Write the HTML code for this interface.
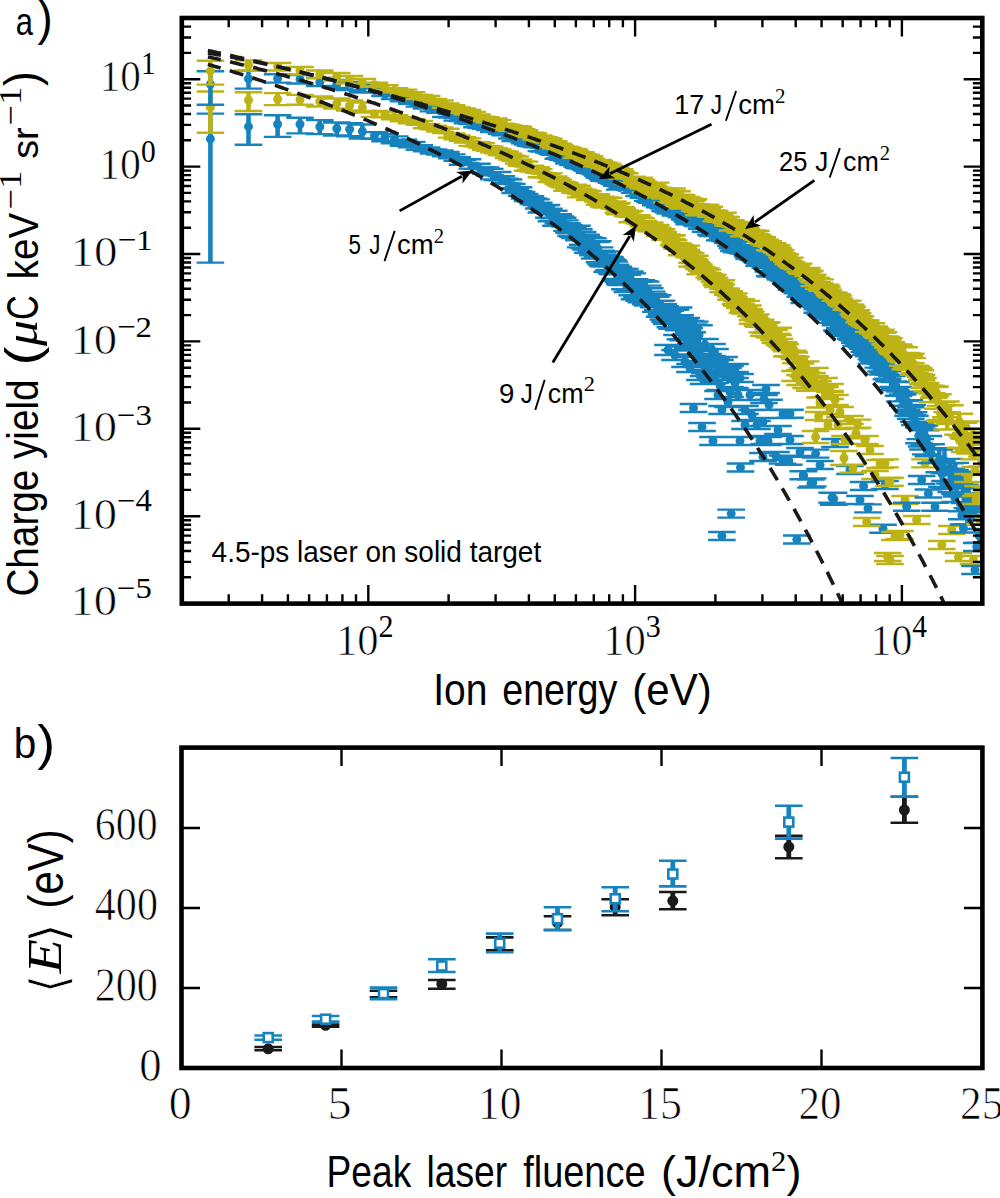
<!DOCTYPE html><html><head><meta charset="utf-8"><style>html,body{margin:0;padding:0;background:#fff;overflow:hidden}svg{display:block}.s{font-family:"Liberation Sans",sans-serif}.r{font-family:"Liberation Serif",serif}text.r[font-size="44"]:not([font-style]){stroke:#fff;stroke-width:0.7px}.r tspan{stroke:none}</style></head><body>
<svg width="1000" height="1198" viewBox="0 0 1000 1198">
<rect width="1000" height="1198" fill="#fff"/>
<defs><clipPath id="ca"><rect x="181.8" y="18" width="800.5" height="585.6"/></clipPath></defs>
<g clip-path="url(#ca)">
<g stroke="#1783be" fill="none"><path stroke-width="4.6" d="M210.4 113.6V262.6M248.5 114.3V144.7M277.6 115.2V136.9M300 117.7V133.4M319.8 120.1V134.1M336.8 122.5V135.5M349.6 123.3V136.2M362.4 124.5V138.5M374.5 132.1V138.9M385 133.9V141.3M394.6 136.4V143.3M403.5 139.6V145.8M411.7 141.9V147.3M419.4 145.3V149.9M426.6 147.4V151.4M433.4 149.5V153.5M439.9 150.5V154.6M445.9 152V156.3M451.7 154.4V158.2M457.2 157.2V160.9M462.5 160.4V164.7M467.5 159.2V164.1M472.3 163.7V168.6M477 163.8V168.8M481.4 167.3V172.6M485.7 167.5V173.5M489.8 168.9V175.4M493.8 172.1V179.4M497.7 172V180.1M501.4 176.1V180.3M505 178.8V183M508.5 179.5V183.5M511.9 184V188.2M515.2 189V193M518.5 187.3V191.2M521.6 191.9V195.9M524.6 194V198.6M527.6 195.9V201M530.5 196.1V201.5M533.3 198.5V203.8M536.1 199.4V205M538.8 202.7V208.5M541.4 206.3V212.5M544 205.3V211.9M546.5 205V212.4M548.9 208.8V217.8M551.4 210.7V221.3M553.7 210.8V220.8M556 214.2V225.7M558.3 214.2V223M560.5 216.4V224.1M562.7 217.7V223.6M564.9 220.4V226.6M567 223.2V230.9M569 224.9V232.8M571.1 226.8V235.8M573.1 227.8V236.7M575 229.1V238M577 225.7V236.5M578.9 229.2V240.2M580.7 236.3V247.4M582.6 232V244.7M584.4 235.5V248.3M586.1 234.8V249.5M587.9 237.3V252.8M589.6 237.7V253.1M591.3 238.2V251.7M593 238.4V255.2M594.7 242V258.6M596.3 241.8V258.4M597.9 241.1V256.2M599.5 247.4V262.2M601.1 250.7V264.2M602.6 252.4V265.6M604.1 255V266.6M605.6 251.4V263.7M607.1 259.3V271.9M608.6 256.6V270.5M610 257.3V270M611.5 259.2V273.2M612.9 260.2V274.3M614.3 261.6V273.8M615.6 264.6V278.9M617 266.8V280.5M618.4 266.8V281.9M619.7 269.2V284.1M621 269.4V284.7M622.3 268.6V285M624.9 268.9V289.2M627.4 274.7V292M629.8 271.5V290.1M632.2 273.4V295.2M634.6 279.1V299.3M636.9 280.4V297.6M639.1 281.9V300.9M641.4 280.1V302.4M643.5 281.2V298.3M645.7 281.6V304.3M647.8 285.6V305.5M649.8 288.3V302.7M651.8 291.6V304.2M653.8 294.2V307.2M655.8 296.9V311.9M657.7 295.1V310.3M659.6 301V316.7M661.5 300.6V314.3M663.3 304.3V319.5M665.1 306.1V322M666.9 310.9V324.1M668.6 311.4V323.1M670.3 310.8V327.2M672 316.7V328.7M673.7 307.6V322.2M675.4 309.7V327.9M677 317.6V335M678.6 307.5V330.2M680.2 315.2V339.4M681.7 318.8V339.3M683.3 320.1V340.2M684.8 319.4V346.5M686.3 317.9V346M687.8 327V348.7M689.2 328.2V350.6M690.7 320.9V344.2M692.1 332.3V354.5M693.5 324.4V344.3M694.9 321.6V344.4M697.6 347V362.1M699 325.2V344.1M700.3 348.4V364M701.6 354.1V367M693.5 404V412M703.5 376V384M702 423V431M713 437V445M738 390V400M745 406V414M757 421V429M764 395V403M768 437V445M776 452V460M783 410V418M740 437V445M760 437V445M763 453V461M788.8 456.8V464.8M803.2 471.2V479.2M812.8 478.4V486.4M832 492.6V502.6M740.5 463.5V471.5M731.2 509.6V517.6M721.9 532V540M796.8 535.5V543.5M766 385V393M769 399.8V409.8M790 409.8V417.8M763 418V426M764.5 436V444M782.5 455.6V463.6M815.6 449.6V457.6M803.6 471.4V479.4M811 479.6V487.6M833.6 492.7V504.7M868 504.4V512.4M883 524.7V532.7M835 439V447M863.6 482V490M885 481V489M710 367V377M715 373V383M720 380V390M725 370V380M730 387V397M735 378V388M728 397V407M750 390V400M752 410V420M718 391V399M722 406V414M745 421V429M778 426V434M790 436V444M800 448V456M820 461V469M850 466V474M860 496V504M708 354V366M712 344V356M716 359V371M700 349V361M705 363V373M724 357V367M675 350V360M685 357V367M690 364V372M700 370V380M712 376V384M668 345V355M695 344V356M705 339V351M715 349V361M720 360V370M730 366V374M740 374V382M728 368V376M735 364V372"/><path stroke-width="2.4" d="M196.6 113.6h27.6M196.6 262.6h27.6M234.7 114.3h27.6M234.7 144.7h27.6M263.8 115.2h27.6M263.8 136.9h27.6M286.2 117.7h27.6M286.2 133.4h27.6M306 120.1h27.6M306 134.1h27.6M323 122.5h27.6M323 135.5h27.6M335.8 123.3h27.6M335.8 136.2h27.6M348.6 124.5h27.6M348.6 138.5h27.6M360.7 132.1h27.6M360.7 138.9h27.6M371.2 133.9h27.6M371.2 141.3h27.6M380.8 136.4h27.6M380.8 143.3h27.6M389.7 139.6h27.6M389.7 145.8h27.6M397.9 141.9h27.6M397.9 147.3h27.6M405.6 145.3h27.6M405.6 149.9h27.6M412.8 147.4h27.6M412.8 151.4h27.6M419.6 149.5h27.6M419.6 153.5h27.6M426.1 150.5h27.6M426.1 154.6h27.6M432.1 152h27.6M432.1 156.3h27.6M437.9 154.4h27.6M437.9 158.2h27.6M443.4 157.2h27.6M443.4 160.9h27.6M448.7 160.4h27.6M448.7 164.7h27.6M453.7 159.2h27.6M453.7 164.1h27.6M458.5 163.7h27.6M458.5 168.6h27.6M463.2 163.8h27.6M463.2 168.8h27.6M467.6 167.3h27.6M467.6 172.6h27.6M471.9 167.5h27.6M471.9 173.5h27.6M476 168.9h27.6M476 175.4h27.6M480 172.1h27.6M480 179.4h27.6M483.9 172h27.6M483.9 180.1h27.6M487.6 176.1h27.6M487.6 180.3h27.6M491.2 178.8h27.6M491.2 183h27.6M494.7 179.5h27.6M494.7 183.5h27.6M498.1 184h27.6M498.1 188.2h27.6M501.4 189h27.6M501.4 193h27.6M504.7 187.3h27.6M504.7 191.2h27.6M507.8 191.9h27.6M507.8 195.9h27.6M510.8 194h27.6M510.8 198.6h27.6M513.8 195.9h27.6M513.8 201h27.6M516.7 196.1h27.6M516.7 201.5h27.6M519.5 198.5h27.6M519.5 203.8h27.6M522.3 199.4h27.6M522.3 205h27.6M525 202.7h27.6M525 208.5h27.6M527.6 206.3h27.6M527.6 212.5h27.6M530.2 205.3h27.6M530.2 211.9h27.6M532.7 205h27.6M532.7 212.4h27.6M535.1 208.8h27.6M535.1 217.8h27.6M537.6 210.7h27.6M537.6 221.3h27.6M539.9 210.8h27.6M539.9 220.8h27.6M542.2 214.2h27.6M542.2 225.7h27.6M544.5 214.2h27.6M544.5 223h27.6M546.7 216.4h27.6M546.7 224.1h27.6M548.9 217.7h27.6M548.9 223.6h27.6M551.1 220.4h27.6M551.1 226.6h27.6M553.2 223.2h27.6M553.2 230.9h27.6M555.2 224.9h27.6M555.2 232.8h27.6M557.3 226.8h27.6M557.3 235.8h27.6M559.3 227.8h27.6M559.3 236.7h27.6M561.2 229.1h27.6M561.2 238h27.6M563.2 225.7h27.6M563.2 236.5h27.6M565.1 229.2h27.6M565.1 240.2h27.6M566.9 236.3h27.6M566.9 247.4h27.6M568.8 232h27.6M568.8 244.7h27.6M570.6 235.5h27.6M570.6 248.3h27.6M572.3 234.8h27.6M572.3 249.5h27.6M574.1 237.3h27.6M574.1 252.8h27.6M575.8 237.7h27.6M575.8 253.1h27.6M577.5 238.2h27.6M577.5 251.7h27.6M579.2 238.4h27.6M579.2 255.2h27.6M580.9 242h27.6M580.9 258.6h27.6M582.5 241.8h27.6M582.5 258.4h27.6M584.1 241.1h27.6M584.1 256.2h27.6M585.7 247.4h27.6M585.7 262.2h27.6M587.3 250.7h27.6M587.3 264.2h27.6M588.8 252.4h27.6M588.8 265.6h27.6M590.3 255h27.6M590.3 266.6h27.6M591.8 251.4h27.6M591.8 263.7h27.6M593.3 259.3h27.6M593.3 271.9h27.6M594.8 256.6h27.6M594.8 270.5h27.6M596.2 257.3h27.6M596.2 270h27.6M597.7 259.2h27.6M597.7 273.2h27.6M599.1 260.2h27.6M599.1 274.3h27.6M600.5 261.6h27.6M600.5 273.8h27.6M601.8 264.6h27.6M601.8 278.9h27.6M603.2 266.8h27.6M603.2 280.5h27.6M604.6 266.8h27.6M604.6 281.9h27.6M605.9 269.2h27.6M605.9 284.1h27.6M607.2 269.4h27.6M607.2 284.7h27.6M608.5 268.6h27.6M608.5 285h27.6M611.1 268.9h27.6M611.1 289.2h27.6M613.6 274.7h27.6M613.6 292h27.6M616 271.5h27.6M616 290.1h27.6M618.4 273.4h27.6M618.4 295.2h27.6M620.8 279.1h27.6M620.8 299.3h27.6M623.1 280.4h27.6M623.1 297.6h27.6M625.3 281.9h27.6M625.3 300.9h27.6M627.6 280.1h27.6M627.6 302.4h27.6M629.7 281.2h27.6M629.7 298.3h27.6M631.9 281.6h27.6M631.9 304.3h27.6M634 285.6h27.6M634 305.5h27.6M636 288.3h27.6M636 302.7h27.6M638 291.6h27.6M638 304.2h27.6M640 294.2h27.6M640 307.2h27.6M642 296.9h27.6M642 311.9h27.6M643.9 295.1h27.6M643.9 310.3h27.6M645.8 301h27.6M645.8 316.7h27.6M647.7 300.6h27.6M647.7 314.3h27.6M649.5 304.3h27.6M649.5 319.5h27.6M651.3 306.1h27.6M651.3 322h27.6M653.1 310.9h27.6M653.1 324.1h27.6M654.8 311.4h27.6M654.8 323.1h27.6M656.5 310.8h27.6M656.5 327.2h27.6M658.2 316.7h27.6M658.2 328.7h27.6M659.9 307.6h27.6M659.9 322.2h27.6M661.6 309.7h27.6M661.6 327.9h27.6M663.2 317.6h27.6M663.2 335h27.6M664.8 307.5h27.6M664.8 330.2h27.6M666.4 315.2h27.6M666.4 339.4h27.6M667.9 318.8h27.6M667.9 339.3h27.6M669.5 320.1h27.6M669.5 340.2h27.6M671 319.4h27.6M671 346.5h27.6M672.5 317.9h27.6M672.5 346h27.6M674 327h27.6M674 348.7h27.6M675.4 328.2h27.6M675.4 350.6h27.6M676.9 320.9h27.6M676.9 344.2h27.6M678.3 332.3h27.6M678.3 354.5h27.6M679.7 324.4h27.6M679.7 344.3h27.6M681.1 321.6h27.6M681.1 344.4h27.6M683.8 347h27.6M683.8 362.1h27.6M685.2 325.2h27.6M685.2 344.1h27.6M686.5 348.4h27.6M686.5 364h27.6M687.8 354.1h27.6M687.8 367h27.6M679.7 404h27.6M679.7 412h27.6M689.7 376h27.6M689.7 384h27.6M688.2 423h27.6M688.2 431h27.6M699.2 437h27.6M699.2 445h27.6M724.2 390h27.6M724.2 400h27.6M731.2 406h27.6M731.2 414h27.6M743.2 421h27.6M743.2 429h27.6M750.2 395h27.6M750.2 403h27.6M754.2 437h27.6M754.2 445h27.6M762.2 452h27.6M762.2 460h27.6M769.2 410h27.6M769.2 418h27.6M726.2 437h27.6M726.2 445h27.6M746.2 437h27.6M746.2 445h27.6M749.2 453h27.6M749.2 461h27.6M775 456.8h27.6M775 464.8h27.6M789.4 471.2h27.6M789.4 479.2h27.6M799 478.4h27.6M799 486.4h27.6M818.2 492.6h27.6M818.2 502.6h27.6M726.7 463.5h27.6M726.7 471.5h27.6M717.4 509.6h27.6M717.4 517.6h27.6M708.1 532h27.6M708.1 540h27.6M783 535.5h27.6M783 543.5h27.6M752.2 385h27.6M752.2 393h27.6M755.2 399.8h27.6M755.2 409.8h27.6M776.2 409.8h27.6M776.2 417.8h27.6M749.2 418h27.6M749.2 426h27.6M750.7 436h27.6M750.7 444h27.6M768.7 455.6h27.6M768.7 463.6h27.6M801.8 449.6h27.6M801.8 457.6h27.6M789.8 471.4h27.6M789.8 479.4h27.6M797.2 479.6h27.6M797.2 487.6h27.6M819.8 492.7h27.6M819.8 504.7h27.6M854.2 504.4h27.6M854.2 512.4h27.6M869.2 524.7h27.6M869.2 532.7h27.6M821.2 439h27.6M821.2 447h27.6M849.8 482h27.6M849.8 490h27.6M871.2 481h27.6M871.2 489h27.6M696.2 367h27.6M696.2 377h27.6M701.2 373h27.6M701.2 383h27.6M706.2 380h27.6M706.2 390h27.6M711.2 370h27.6M711.2 380h27.6M716.2 387h27.6M716.2 397h27.6M721.2 378h27.6M721.2 388h27.6M714.2 397h27.6M714.2 407h27.6M736.2 390h27.6M736.2 400h27.6M738.2 410h27.6M738.2 420h27.6M704.2 391h27.6M704.2 399h27.6M708.2 406h27.6M708.2 414h27.6M731.2 421h27.6M731.2 429h27.6M764.2 426h27.6M764.2 434h27.6M776.2 436h27.6M776.2 444h27.6M786.2 448h27.6M786.2 456h27.6M806.2 461h27.6M806.2 469h27.6M836.2 466h27.6M836.2 474h27.6M846.2 496h27.6M846.2 504h27.6M694.2 354h27.6M694.2 366h27.6M698.2 344h27.6M698.2 356h27.6M702.2 359h27.6M702.2 371h27.6M686.2 349h27.6M686.2 361h27.6M691.2 363h27.6M691.2 373h27.6M710.2 357h27.6M710.2 367h27.6M661.2 350h27.6M661.2 360h27.6M671.2 357h27.6M671.2 367h27.6M676.2 364h27.6M676.2 372h27.6M686.2 370h27.6M686.2 380h27.6M698.2 376h27.6M698.2 384h27.6M654.2 345h27.6M654.2 355h27.6M681.2 344h27.6M681.2 356h27.6M691.2 339h27.6M691.2 351h27.6M701.2 349h27.6M701.2 361h27.6M706.2 360h27.6M706.2 370h27.6M716.2 366h27.6M716.2 374h27.6M726.2 374h27.6M726.2 382h27.6M714.2 368h27.6M714.2 376h27.6M721.2 364h27.6M721.2 372h27.6"/><path stroke-width="9" stroke-linecap="round" d="M210.4 138.9h0M248.5 126.6h0M277.6 124.3h0M300 124.3h0M319.8 126.7h0M336.8 128.5h0M349.6 129.2h0M362.4 131.5h0M374.5 135.5h0M385 137.6h0M394.6 139.8h0M403.5 142.7h0M411.7 144.6h0M419.4 147.6h0M426.6 149.4h0M433.4 151.5h0M439.9 152.6h0M445.9 154.2h0M451.7 156.3h0M457.2 159h0M462.5 162.5h0M467.5 161.6h0M472.3 166.2h0M477 166.3h0M481.4 169.9h0M485.7 170.5h0M489.8 172.1h0M493.8 175.7h0M497.7 176h0M501.4 178.2h0M505 180.9h0M508.5 181.5h0M511.9 186.1h0M515.2 191h0M518.5 189.2h0M521.6 193.9h0M524.6 196.3h0M527.6 198.5h0M530.5 198.8h0M533.3 201.2h0M536.1 202.2h0M538.8 205.6h0M541.4 209.4h0M544 208.6h0M546.5 208.7h0M548.9 213.3h0M551.4 216h0M553.7 215.8h0M556 220h0M558.3 218.6h0M560.5 220.3h0M562.7 220.6h0M564.9 223.5h0M567 227h0M569 228.9h0M571.1 231.3h0M573.1 232.2h0M575 233.5h0M577 231.1h0M578.9 234.7h0M580.7 241.9h0M582.6 238.3h0M584.4 241.9h0M586.1 242.2h0M587.9 245h0M589.6 245.4h0M591.3 245h0M593 246.8h0M594.7 250.3h0M596.3 250.1h0M597.9 248.7h0M599.5 254.8h0M601.1 257.4h0M602.6 259h0M604.1 260.8h0M605.6 257.6h0M607.1 265.6h0M608.6 263.6h0M610 263.6h0M611.5 266.2h0M612.9 267.2h0M614.3 267.7h0M615.6 271.7h0M617 273.7h0M618.4 274.4h0M619.7 276.7h0M621 277h0M622.3 276.8h0M624.9 279h0M627.4 283.3h0M629.8 280.8h0M632.2 284.3h0M634.6 289.2h0M636.9 289h0M639.1 291.4h0M641.4 291.2h0M643.5 289.7h0M645.7 292.9h0M647.8 295.5h0M649.8 295.5h0M651.8 297.9h0M653.8 300.7h0M655.8 304.4h0M657.7 302.7h0M659.6 308.8h0M661.5 307.5h0M663.3 311.9h0M665.1 314h0M666.9 317.5h0M668.6 317.3h0M670.3 319h0M672 322.7h0M673.7 314.9h0M675.4 318.8h0M677 326.3h0M678.6 318.9h0M680.2 327.3h0M681.7 329h0M683.3 330.2h0M684.8 333h0M686.3 331.9h0M687.8 337.8h0M689.2 339.4h0M690.7 332.6h0M692.1 343.4h0M693.5 334.4h0M694.9 333h0M697.6 354.5h0M699 334.7h0M700.3 356.2h0M701.6 360.5h0M693.5 408h0M703.5 380h0M702 427h0M713 441h0M738 395h0M745 410h0M757 425h0M764 399h0M768 441h0M776 456h0M783 414h0M740 441h0M760 441h0M763 457h0M788.8 460.8h0M803.2 475.2h0M812.8 482.4h0M832 497.6h0M740.5 467.5h0M731.2 513.6h0M721.9 536h0M796.8 539.5h0M766 389h0M769 404.8h0M790 413.8h0M763 422h0M764.5 440h0M782.5 459.6h0M815.6 453.6h0M803.6 475.4h0M811 483.6h0M833.6 498.7h0M868 508.4h0M883 528.7h0M835 443h0M863.6 486h0M885 485h0M710 372h0M715 378h0M720 385h0M725 375h0M730 392h0M735 383h0M728 402h0M750 395h0M752 415h0M718 395h0M722 410h0M745 425h0M778 430h0M790 440h0M800 452h0M820 465h0M850 470h0M860 500h0M708 360h0M712 350h0M716 365h0M700 355h0M705 368h0M724 362h0M675 355h0M685 362h0M690 368h0M700 375h0M712 380h0M668 350h0M695 350h0M705 345h0M715 355h0M720 365h0M730 370h0M740 378h0M728 372h0M735 368h0"/></g>
<g stroke="#bdb315" fill="none"><path stroke-width="4.6" d="M210.4 91.5V132.8M248.5 92.2V111M277.6 93.1V105.1M300 94.9V104.7M319.8 96.5V106.5M336.8 98.5V108.5M349.6 100.5V110.5M362.4 102.5V112.5M374.5 110.9V116.9M385 111.8V117.3M394.6 115.2V119.2M403.5 117.3V121.3M411.7 119.3V123.2M419.4 120.9V124.9M426.6 124V128.2M433.4 125.6V129.4M439.9 127.5V131.6M445.9 128.7V133M451.7 133.4V137.6M457.2 135.4V139.3M462.5 137.1V140.9M467.5 138.4V142.6M472.3 142V145.9M477 142.3V146.2M481.4 143.1V147.6M485.7 145.9V150M489.8 146.5V150.7M493.8 148.2V152.4M497.7 149.4V153.3M501.4 150.9V155.1M505 151.5V155.3M508.5 153.8V158M511.9 155.8V159.6M515.2 156.5V160.8M518.5 159.4V163.5M521.6 161.5V165.7M524.6 161.6V165.9M527.6 166.6V170.8M530.5 165.6V169.6M533.3 167.7V171.5M536.1 167.2V171.4M538.8 169.1V172.7M541.4 173V177.3M544 173.3V177.1M546.5 173.7V177.5M548.9 173.4V177.4M551.4 178.3V182M553.7 176.4V180.4M556 178.1V182.3M558.3 179.8V183.8M560.5 181.6V185.6M562.7 182.2V186.3M564.9 182.9V187.4M567 186.8V190.7M569 185.3V189.1M571.1 186.2V190.8M573.1 184.6V189.1M575 188.7V192.8M577 185.8V190.3M578.9 188.4V192.3M580.7 193.8V197.4M582.6 189.8V193.8M584.4 191.6V195.8M586.1 190.6V194.9M587.9 191.3V195.7M589.6 195.7V200M591.3 194.3V197.9M593 195.6V199.2M594.7 195.7V199.8M596.3 194.3V198.8M597.9 197.3V201.5M599.5 199.5V204.8M601.1 196.8V202.5M602.6 199.1V205.3M604.1 200.8V207M605.6 197.4V203.3M607.1 201.4V207.6M608.6 197.9V202.2M610 203.3V206.9M611.5 202V206.4M612.9 201.5V205.8M614.3 204V208.6M615.6 204.3V208.2M617 203.1V207.1M618.4 209.4V212.9M619.7 210.1V214.2M621 207.1V210.5M622.3 208.7V212.9M624.9 210.5V213.9M627.4 212.4V216M629.8 210.9V216.4M632.2 217V222.2M634.6 216.2V222M636.9 215.3V221.3M639.1 217.7V223.4M641.4 218.4V224.1M643.5 221.1V226.2M645.7 224.2V229.3M647.8 225.5V230.4M649.8 222.5V227.9M651.8 227V231.2M653.8 226.1V230M655.8 225V229.5M657.7 227.8V232.1M659.6 231.3V235.8M661.5 229.1V233.1M663.3 232V236.3M665.1 236.1V239.9M666.9 234.5V238.2M668.6 235.3V239.2M670.3 235.9V239.8M672 235.2V239.3M673.7 240.4V245M675.4 243.2V246.8M677 244.8V248.7M678.6 243.7V247M680.2 245.2V248.7M681.7 250.8V255.3M683.3 247.9V251.9M684.8 251V255M686.3 245.6V249.7M687.8 251.9V255.6M689.2 252.9V257.4M690.7 253.1V257.4M692.1 262.7V266.6M693.5 258.7V263M694.9 255.8V260M696.3 262.3V266.5M697.6 263.4V267.4M699 264.6V268.8M700.3 269.4V274.2M701.6 267V270.7M703.6 269.1V272.5M705.5 268.3V272.8M707.3 269.6V273.1M709.2 273.9V277.6M711 275.3V279.2M712.8 274.7V279M714.6 277.6V282M716.3 281.3V285M718 283.1V287M719.7 283.1V286.5M721.4 280.2V284.4M723 288.7V292.1M724.6 288.5V292.2M726.2 288.7V292M727.8 291.4V294.9M729.3 291.2V294.5M730.9 296.3V299.9M732.4 295.9V299.4M733.9 293.4V297.2M735.4 299.7V304.2M736.8 301.2V305.9M738.2 300.7V305M739.7 303.8V308.1M741.1 299.3V303.7M742.5 308V312.7M743.8 307V310.4M745.2 310.3V313.5M746.5 300.9V305.6M747.8 305.5V309.7M749.1 309.3V313.6M750.9 311.6V316.3M752.6 320V323.7M754.2 316.6V319.8M755.9 314.4V318.7M757.5 320.6V325.7M759.1 321V326.7M760.7 319.6V326M762.2 324.5V332.4M763.8 325.5V335.9M765.3 322.8V333.1M766.8 322.2V332.2M768.3 329.5V336.5M769.7 329.5V337.3M771.2 327.8V337.5M772.6 328.6V336.2M774 330.1V340M775.4 333.8V342.8M776.8 333.6V343M778.1 327.8V335.1M779.5 339V345.2M782.1 342.2V346.8M783.7 342.1V347.5M785.3 344.2V349.7M786.9 351.4V356.5M788.4 351V355.9M791.5 350.7V356.7M793 350.6V356.3M794.4 352.5V359.1M795.9 356.7V363.1M800.2 363.5V370M805.6 361.4V371.3M806.9 368.2V377.3M809.6 382.8V390.8M815 378V386M820 397.5V407.5M818.6 412V420M857.6 419.6V427.6M815.6 431V443M856 428.3V438.3M844 451V465M853 464.6V472.6M880 460V468M889 478V486M866.7 518V526M895 532V540M887.7 553V561M885 459.4V467.4M890 477.8V485.8M905 496V504M916.7 516V524M900 531V539M890 556V564M925 459.4V467.4M941.8 541V549M951.8 526V534M958.5 553V561M973.5 556V564M830 406V414M838 421V429M845 436V444M870 446V454M875 471V479M830 391V399M865 436V444M825 387V397M835 395V405M840 407V417M850 416V424M828 421V429M800 375V385M806 378V388M812 373V383M818 381V389M824 378V386M830 384V392M795 371V381M803 368V376M815 368V376"/><path stroke-width="2.4" d="M196.6 91.5h27.6M196.6 132.8h27.6M234.7 92.2h27.6M234.7 111h27.6M263.8 93.1h27.6M263.8 105.1h27.6M286.2 94.9h27.6M286.2 104.7h27.6M306 96.5h27.6M306 106.5h27.6M323 98.5h27.6M323 108.5h27.6M335.8 100.5h27.6M335.8 110.5h27.6M348.6 102.5h27.6M348.6 112.5h27.6M360.7 110.9h27.6M360.7 116.9h27.6M371.2 111.8h27.6M371.2 117.3h27.6M380.8 115.2h27.6M380.8 119.2h27.6M389.7 117.3h27.6M389.7 121.3h27.6M397.9 119.3h27.6M397.9 123.2h27.6M405.6 120.9h27.6M405.6 124.9h27.6M412.8 124h27.6M412.8 128.2h27.6M419.6 125.6h27.6M419.6 129.4h27.6M426.1 127.5h27.6M426.1 131.6h27.6M432.1 128.7h27.6M432.1 133h27.6M437.9 133.4h27.6M437.9 137.6h27.6M443.4 135.4h27.6M443.4 139.3h27.6M448.7 137.1h27.6M448.7 140.9h27.6M453.7 138.4h27.6M453.7 142.6h27.6M458.5 142h27.6M458.5 145.9h27.6M463.2 142.3h27.6M463.2 146.2h27.6M467.6 143.1h27.6M467.6 147.6h27.6M471.9 145.9h27.6M471.9 150h27.6M476 146.5h27.6M476 150.7h27.6M480 148.2h27.6M480 152.4h27.6M483.9 149.4h27.6M483.9 153.3h27.6M487.6 150.9h27.6M487.6 155.1h27.6M491.2 151.5h27.6M491.2 155.3h27.6M494.7 153.8h27.6M494.7 158h27.6M498.1 155.8h27.6M498.1 159.6h27.6M501.4 156.5h27.6M501.4 160.8h27.6M504.7 159.4h27.6M504.7 163.5h27.6M507.8 161.5h27.6M507.8 165.7h27.6M510.8 161.6h27.6M510.8 165.9h27.6M513.8 166.6h27.6M513.8 170.8h27.6M516.7 165.6h27.6M516.7 169.6h27.6M519.5 167.7h27.6M519.5 171.5h27.6M522.3 167.2h27.6M522.3 171.4h27.6M525 169.1h27.6M525 172.7h27.6M527.6 173h27.6M527.6 177.3h27.6M530.2 173.3h27.6M530.2 177.1h27.6M532.7 173.7h27.6M532.7 177.5h27.6M535.1 173.4h27.6M535.1 177.4h27.6M537.6 178.3h27.6M537.6 182h27.6M539.9 176.4h27.6M539.9 180.4h27.6M542.2 178.1h27.6M542.2 182.3h27.6M544.5 179.8h27.6M544.5 183.8h27.6M546.7 181.6h27.6M546.7 185.6h27.6M548.9 182.2h27.6M548.9 186.3h27.6M551.1 182.9h27.6M551.1 187.4h27.6M553.2 186.8h27.6M553.2 190.7h27.6M555.2 185.3h27.6M555.2 189.1h27.6M557.3 186.2h27.6M557.3 190.8h27.6M559.3 184.6h27.6M559.3 189.1h27.6M561.2 188.7h27.6M561.2 192.8h27.6M563.2 185.8h27.6M563.2 190.3h27.6M565.1 188.4h27.6M565.1 192.3h27.6M566.9 193.8h27.6M566.9 197.4h27.6M568.8 189.8h27.6M568.8 193.8h27.6M570.6 191.6h27.6M570.6 195.8h27.6M572.3 190.6h27.6M572.3 194.9h27.6M574.1 191.3h27.6M574.1 195.7h27.6M575.8 195.7h27.6M575.8 200h27.6M577.5 194.3h27.6M577.5 197.9h27.6M579.2 195.6h27.6M579.2 199.2h27.6M580.9 195.7h27.6M580.9 199.8h27.6M582.5 194.3h27.6M582.5 198.8h27.6M584.1 197.3h27.6M584.1 201.5h27.6M585.7 199.5h27.6M585.7 204.8h27.6M587.3 196.8h27.6M587.3 202.5h27.6M588.8 199.1h27.6M588.8 205.3h27.6M590.3 200.8h27.6M590.3 207h27.6M591.8 197.4h27.6M591.8 203.3h27.6M593.3 201.4h27.6M593.3 207.6h27.6M594.8 197.9h27.6M594.8 202.2h27.6M596.2 203.3h27.6M596.2 206.9h27.6M597.7 202h27.6M597.7 206.4h27.6M599.1 201.5h27.6M599.1 205.8h27.6M600.5 204h27.6M600.5 208.6h27.6M601.8 204.3h27.6M601.8 208.2h27.6M603.2 203.1h27.6M603.2 207.1h27.6M604.6 209.4h27.6M604.6 212.9h27.6M605.9 210.1h27.6M605.9 214.2h27.6M607.2 207.1h27.6M607.2 210.5h27.6M608.5 208.7h27.6M608.5 212.9h27.6M611.1 210.5h27.6M611.1 213.9h27.6M613.6 212.4h27.6M613.6 216h27.6M616 210.9h27.6M616 216.4h27.6M618.4 217h27.6M618.4 222.2h27.6M620.8 216.2h27.6M620.8 222h27.6M623.1 215.3h27.6M623.1 221.3h27.6M625.3 217.7h27.6M625.3 223.4h27.6M627.6 218.4h27.6M627.6 224.1h27.6M629.7 221.1h27.6M629.7 226.2h27.6M631.9 224.2h27.6M631.9 229.3h27.6M634 225.5h27.6M634 230.4h27.6M636 222.5h27.6M636 227.9h27.6M638 227h27.6M638 231.2h27.6M640 226.1h27.6M640 230h27.6M642 225h27.6M642 229.5h27.6M643.9 227.8h27.6M643.9 232.1h27.6M645.8 231.3h27.6M645.8 235.8h27.6M647.7 229.1h27.6M647.7 233.1h27.6M649.5 232h27.6M649.5 236.3h27.6M651.3 236.1h27.6M651.3 239.9h27.6M653.1 234.5h27.6M653.1 238.2h27.6M654.8 235.3h27.6M654.8 239.2h27.6M656.5 235.9h27.6M656.5 239.8h27.6M658.2 235.2h27.6M658.2 239.3h27.6M659.9 240.4h27.6M659.9 245h27.6M661.6 243.2h27.6M661.6 246.8h27.6M663.2 244.8h27.6M663.2 248.7h27.6M664.8 243.7h27.6M664.8 247h27.6M666.4 245.2h27.6M666.4 248.7h27.6M667.9 250.8h27.6M667.9 255.3h27.6M669.5 247.9h27.6M669.5 251.9h27.6M671 251h27.6M671 255h27.6M672.5 245.6h27.6M672.5 249.7h27.6M674 251.9h27.6M674 255.6h27.6M675.4 252.9h27.6M675.4 257.4h27.6M676.9 253.1h27.6M676.9 257.4h27.6M678.3 262.7h27.6M678.3 266.6h27.6M679.7 258.7h27.6M679.7 263h27.6M681.1 255.8h27.6M681.1 260h27.6M682.5 262.3h27.6M682.5 266.5h27.6M683.8 263.4h27.6M683.8 267.4h27.6M685.2 264.6h27.6M685.2 268.8h27.6M686.5 269.4h27.6M686.5 274.2h27.6M687.8 267h27.6M687.8 270.7h27.6M689.8 269.1h27.6M689.8 272.5h27.6M691.7 268.3h27.6M691.7 272.8h27.6M693.5 269.6h27.6M693.5 273.1h27.6M695.4 273.9h27.6M695.4 277.6h27.6M697.2 275.3h27.6M697.2 279.2h27.6M699 274.7h27.6M699 279h27.6M700.8 277.6h27.6M700.8 282h27.6M702.5 281.3h27.6M702.5 285h27.6M704.2 283.1h27.6M704.2 287h27.6M705.9 283.1h27.6M705.9 286.5h27.6M707.6 280.2h27.6M707.6 284.4h27.6M709.2 288.7h27.6M709.2 292.1h27.6M710.8 288.5h27.6M710.8 292.2h27.6M712.4 288.7h27.6M712.4 292h27.6M714 291.4h27.6M714 294.9h27.6M715.5 291.2h27.6M715.5 294.5h27.6M717.1 296.3h27.6M717.1 299.9h27.6M718.6 295.9h27.6M718.6 299.4h27.6M720.1 293.4h27.6M720.1 297.2h27.6M721.6 299.7h27.6M721.6 304.2h27.6M723 301.2h27.6M723 305.9h27.6M724.4 300.7h27.6M724.4 305h27.6M725.9 303.8h27.6M725.9 308.1h27.6M727.3 299.3h27.6M727.3 303.7h27.6M728.7 308h27.6M728.7 312.7h27.6M730 307h27.6M730 310.4h27.6M731.4 310.3h27.6M731.4 313.5h27.6M732.7 300.9h27.6M732.7 305.6h27.6M734 305.5h27.6M734 309.7h27.6M735.3 309.3h27.6M735.3 313.6h27.6M737.1 311.6h27.6M737.1 316.3h27.6M738.8 320h27.6M738.8 323.7h27.6M740.4 316.6h27.6M740.4 319.8h27.6M742.1 314.4h27.6M742.1 318.7h27.6M743.7 320.6h27.6M743.7 325.7h27.6M745.3 321h27.6M745.3 326.7h27.6M746.9 319.6h27.6M746.9 326h27.6M748.4 324.5h27.6M748.4 332.4h27.6M750 325.5h27.6M750 335.9h27.6M751.5 322.8h27.6M751.5 333.1h27.6M753 322.2h27.6M753 332.2h27.6M754.5 329.5h27.6M754.5 336.5h27.6M755.9 329.5h27.6M755.9 337.3h27.6M757.4 327.8h27.6M757.4 337.5h27.6M758.8 328.6h27.6M758.8 336.2h27.6M760.2 330.1h27.6M760.2 340h27.6M761.6 333.8h27.6M761.6 342.8h27.6M763 333.6h27.6M763 343h27.6M764.3 327.8h27.6M764.3 335.1h27.6M765.7 339h27.6M765.7 345.2h27.6M768.3 342.2h27.6M768.3 346.8h27.6M769.9 342.1h27.6M769.9 347.5h27.6M771.5 344.2h27.6M771.5 349.7h27.6M773.1 351.4h27.6M773.1 356.5h27.6M774.6 351h27.6M774.6 355.9h27.6M777.7 350.7h27.6M777.7 356.7h27.6M779.2 350.6h27.6M779.2 356.3h27.6M780.6 352.5h27.6M780.6 359.1h27.6M782.1 356.7h27.6M782.1 363.1h27.6M786.4 363.5h27.6M786.4 370h27.6M791.8 361.4h27.6M791.8 371.3h27.6M793.1 368.2h27.6M793.1 377.3h27.6M795.8 382.8h27.6M795.8 390.8h27.6M801.2 378h27.6M801.2 386h27.6M806.2 397.5h27.6M806.2 407.5h27.6M804.8 412h27.6M804.8 420h27.6M843.8 419.6h27.6M843.8 427.6h27.6M801.8 431h27.6M801.8 443h27.6M842.2 428.3h27.6M842.2 438.3h27.6M830.2 451h27.6M830.2 465h27.6M839.2 464.6h27.6M839.2 472.6h27.6M866.2 460h27.6M866.2 468h27.6M875.2 478h27.6M875.2 486h27.6M852.9 518h27.6M852.9 526h27.6M881.2 532h27.6M881.2 540h27.6M873.9 553h27.6M873.9 561h27.6M871.2 459.4h27.6M871.2 467.4h27.6M876.2 477.8h27.6M876.2 485.8h27.6M891.2 496h27.6M891.2 504h27.6M902.9 516h27.6M902.9 524h27.6M886.2 531h27.6M886.2 539h27.6M876.2 556h27.6M876.2 564h27.6M911.2 459.4h27.6M911.2 467.4h27.6M928 541h27.6M928 549h27.6M938 526h27.6M938 534h27.6M944.7 553h27.6M944.7 561h27.6M959.7 556h27.6M959.7 564h27.6M816.2 406h27.6M816.2 414h27.6M824.2 421h27.6M824.2 429h27.6M831.2 436h27.6M831.2 444h27.6M856.2 446h27.6M856.2 454h27.6M861.2 471h27.6M861.2 479h27.6M816.2 391h27.6M816.2 399h27.6M851.2 436h27.6M851.2 444h27.6M811.2 387h27.6M811.2 397h27.6M821.2 395h27.6M821.2 405h27.6M826.2 407h27.6M826.2 417h27.6M836.2 416h27.6M836.2 424h27.6M814.2 421h27.6M814.2 429h27.6M786.2 375h27.6M786.2 385h27.6M792.2 378h27.6M792.2 388h27.6M798.2 373h27.6M798.2 383h27.6M804.2 381h27.6M804.2 389h27.6M810.2 378h27.6M810.2 386h27.6M816.2 384h27.6M816.2 392h27.6M781.2 371h27.6M781.2 381h27.6M789.2 368h27.6M789.2 376h27.6M801.2 368h27.6M801.2 376h27.6"/><path stroke-width="9" stroke-linecap="round" d="M210.4 107.2h0M248.5 100.3h0M277.6 99.1h0M300 99.8h0M319.8 101.5h0M336.8 103.5h0M349.6 105.5h0M362.4 107.5h0M374.5 113.9h0M385 114.5h0M394.6 117.2h0M403.5 119.3h0M411.7 121.3h0M419.4 122.9h0M426.6 126.1h0M433.4 127.5h0M439.9 129.6h0M445.9 130.9h0M451.7 135.5h0M457.2 137.3h0M462.5 139h0M467.5 140.5h0M472.3 143.9h0M477 144.2h0M481.4 145.3h0M485.7 148h0M489.8 148.6h0M493.8 150.3h0M497.7 151.3h0M501.4 153h0M505 153.4h0M508.5 155.9h0M511.9 157.7h0M515.2 158.7h0M518.5 161.4h0M521.6 163.6h0M524.6 163.8h0M527.6 168.7h0M530.5 167.6h0M533.3 169.6h0M536.1 169.3h0M538.8 170.9h0M541.4 175.1h0M544 175.2h0M546.5 175.6h0M548.9 175.4h0M551.4 180.2h0M553.7 178.4h0M556 180.2h0M558.3 181.8h0M560.5 183.6h0M562.7 184.3h0M564.9 185.1h0M567 188.7h0M569 187.2h0M571.1 188.5h0M573.1 186.8h0M575 190.7h0M577 188h0M578.9 190.4h0M580.7 195.6h0M582.6 191.8h0M584.4 193.7h0M586.1 192.8h0M587.9 193.5h0M589.6 197.8h0M591.3 196.1h0M593 197.4h0M594.7 197.7h0M596.3 196.6h0M597.9 199.4h0M599.5 202.2h0M601.1 199.6h0M602.6 202.2h0M604.1 203.9h0M605.6 200.3h0M607.1 204.5h0M608.6 200h0M610 205.1h0M611.5 204.2h0M612.9 203.7h0M614.3 206.3h0M615.6 206.3h0M617 205.1h0M618.4 211.1h0M619.7 212.2h0M621 208.8h0M622.3 210.8h0M624.9 212.2h0M627.4 214.2h0M629.8 213.7h0M632.2 219.6h0M634.6 219.1h0M636.9 218.3h0M639.1 220.5h0M641.4 221.2h0M643.5 223.7h0M645.7 226.7h0M647.8 228h0M649.8 225.2h0M651.8 229.1h0M653.8 228h0M655.8 227.3h0M657.7 229.9h0M659.6 233.6h0M661.5 231.1h0M663.3 234.1h0M665.1 238h0M666.9 236.3h0M668.6 237.3h0M670.3 237.9h0M672 237.2h0M673.7 242.7h0M675.4 245h0M677 246.7h0M678.6 245.4h0M680.2 246.9h0M681.7 253.1h0M683.3 249.9h0M684.8 253h0M686.3 247.7h0M687.8 253.8h0M689.2 255.1h0M690.7 255.3h0M692.1 264.6h0M693.5 260.9h0M694.9 257.9h0M696.3 264.4h0M697.6 265.4h0M699 266.7h0M700.3 271.8h0M701.6 268.9h0M703.6 270.8h0M705.5 270.6h0M707.3 271.4h0M709.2 275.7h0M711 277.3h0M712.8 276.9h0M714.6 279.8h0M716.3 283.1h0M718 285.1h0M719.7 284.8h0M721.4 282.3h0M723 290.4h0M724.6 290.3h0M726.2 290.4h0M727.8 293.2h0M729.3 292.9h0M730.9 298.1h0M732.4 297.6h0M733.9 295.3h0M735.4 302h0M736.8 303.6h0M738.2 302.8h0M739.7 306h0M741.1 301.5h0M742.5 310.3h0M743.8 308.7h0M745.2 311.9h0M746.5 303.2h0M747.8 307.6h0M749.1 311.4h0M750.9 314h0M752.6 321.9h0M754.2 318.2h0M755.9 316.6h0M757.5 323.1h0M759.1 323.9h0M760.7 322.8h0M762.2 328.5h0M763.8 330.7h0M765.3 328h0M766.8 327.2h0M768.3 333h0M769.7 333.4h0M771.2 332.7h0M772.6 332.4h0M774 335.1h0M775.4 338.3h0M776.8 338.3h0M778.1 331.5h0M779.5 342.1h0M782.1 344.5h0M783.7 344.8h0M785.3 346.9h0M786.9 354h0M788.4 353.4h0M791.5 353.7h0M793 353.4h0M794.4 355.8h0M795.9 359.9h0M800.2 366.7h0M805.6 366.4h0M806.9 372.8h0M809.6 386.8h0M815 382h0M820 402.5h0M818.6 416h0M857.6 423.6h0M815.6 437h0M856 433.3h0M844 458h0M853 468.6h0M880 464h0M889 482h0M866.7 522h0M895 536h0M887.7 557h0M885 463.4h0M890 481.8h0M905 500h0M916.7 520h0M900 535h0M890 560h0M925 463.4h0M941.8 545h0M951.8 530h0M958.5 557h0M973.5 560h0M830 410h0M838 425h0M845 440h0M870 450h0M875 475h0M830 395h0M865 440h0M825 392h0M835 400h0M840 412h0M850 420h0M828 425h0M800 380h0M806 383h0M812 378h0M818 385h0M824 382h0M830 388h0M795 376h0M803 372h0M815 372h0"/></g>
<g stroke="#1783be" fill="none"><path stroke-width="4.6" d="M210.4 71.3V104.8M248.5 70.7V88.6M277.6 74.2V82.6M300 75V83.5M319.8 78V86M336.8 80V88M349.6 82V90M362.4 84.5V92.5M374.5 88.2V92.2M385 92.2V96M394.6 94.8V99.1M403.5 97.3V101.4M411.7 99.8V103.8M419.4 102.6V106.6M426.6 104.6V108.6M433.4 107.4V111.4M439.9 108.9V112.7M445.9 112.8V117M451.7 113.5V117.5M457.2 116.6V120.6M462.5 117.1V121M467.5 119.2V123.3M472.3 120.4V124.1M477 123V127.3M481.4 124.1V128M485.7 124.5V128.7M489.8 126.4V130.1M493.8 128.3V132.1M497.7 127.7V132M501.4 129.9V133.7M505 131.3V135.3M508.5 131.4V135.4M511.9 134.6V138.5M515.2 136.9V141.1M518.5 135.4V139.7M521.6 137.1V141.3M524.6 139.2V143.4M527.6 140.6V144.6M530.5 141.7V145.7M533.3 142.5V146.2M536.1 143.4V147.1M538.8 143.5V147.2M541.4 147.2V151.1M544 147.8V151.6M546.5 147.2V151M548.9 148.6V152.5M551.4 149.3V153.5M553.7 150.3V154.6M556 151.1V154.9M558.3 154.9V158.8M560.5 153.9V157.8M562.7 155.5V159.9M564.9 155.8V160M567 157.4V161.1M569 159.3V163.5M571.1 158.8V163.2M573.1 161.4V165M575 159.9V164.3M577 162.2V166.6M578.9 164.2V167.8M580.7 164.4V168.3M582.6 163.7V168M584.4 164.3V168.8M586.1 165.8V170.1M587.9 166.4V170.7M589.6 168.1V172.7M591.3 168.7V172.7M593 168.7V173.2M594.7 169V173.5M596.3 170.8V174.6M597.9 172.2V176.1M599.5 173.8V177.7M601.1 174.4V178M602.6 175.1V179.4M604.1 176.6V180.8M605.6 176.7V180.4M607.1 175.2V179M608.6 177.1V181.4M610 176.7V180.5M611.5 179.2V182.8M612.9 177.2V181.5M614.3 180V183.8M615.6 181V184.4M617 181.8V185.9M618.4 181.7V185.5M619.7 185.5V189.6M621 182.1V186.3M622.3 184V188.7M624.9 183.9V187.6M627.4 183.8V188.5M629.8 185.7V189.9M632.2 185.3V189.9M634.6 188.9V192.9M636.9 187.2V191.5M639.1 192.2V196M641.4 192.3V195.6M643.5 194.3V197.7M645.7 192.5V196.3M647.8 197.7V200.9M649.8 198V201.9M651.8 198.6V202.9M653.8 198.5V202.1M655.8 200.5V205.2M657.7 201V204.3M659.6 204.2V207.4M661.5 200.6V203.8M663.3 204V208.2M665.1 207.5V211M666.9 207.6V211.4M668.6 208.9V212.3M670.3 209.3V213.6M672 209.1V213.3M673.7 208.3V211.9M675.4 210.8V215.6M677 210.3V214.5M678.6 211.8V215M680.2 212.7V216M681.7 213.1V217.4M683.3 212.1V216.5M684.8 216.1V219.6M686.3 215.4V219.9M687.8 218.2V221.8M689.2 220.4V224.2M690.7 218.7V222.7M692.1 218.4V222.3M693.5 216.4V220.7M694.9 219.3V223.9M696.3 220.9V224.7M697.6 221.4V226.1M699 222.3V225.7M700.3 221.3V226.1M701.6 225.4V228.7M703.6 224.7V228.7M705.5 227.1V231.8M707.3 225.5V228.9M709.2 228.2V232.1M711 230.8V235M712.8 231.9V236.1M714.6 228.6V233.1M716.3 231.6V236M718 232.4V236.4M719.7 236.3V240.4M721.4 236V239.9M723 235.3V238.6M724.6 237.5V240.8M726.2 237.4V241.2M727.8 239.4V243.1M729.3 239.7V243.1M730.9 241.2V245.9M732.4 244.4V248.3M733.9 247.5V251.1M735.4 245.7V249.3M736.8 248.5V252.2M738.2 241.8V246.5M739.7 247.7V252.2M741.1 249V252.9M742.5 249.6V253M743.8 248.7V253.6M745.2 245.3V250.6M746.5 247.8V254.3M747.8 250.3V256.5M749.1 252V258.7M750.9 251V257.2M752.6 254.4V259.6M754.2 255.8V260.1M755.9 256.9V261.4M757.5 258.6V262.8M759.1 260V265.7M760.7 260.4V264.2M762.2 262V265.7M763.8 261.4V265.9M765.3 263.7V267.8M766.8 263.8V268.3M768.3 267.5V271.5M769.7 271.2V276M771.2 272V276.5M772.6 268.4V273.1M774 271.9V275.9M775.4 272.1V276.4M776.8 270.1V273.5M778.1 270.5V273.7M779.5 273.5V278.3M780.8 276.1V279.6M782.1 274.9V278.3M783.7 276.4V280.6M785.3 278.2V281.6M786.9 278.7V283.2M788.4 279.8V283.2M790 282.6V286.8M791.5 285.2V289.8M793 285.9V289.9M794.4 284.8V288.9M795.9 287.1V291.5M797.3 288.4V293.2M798.8 286.3V290.2M800.2 292.5V296.9M801.5 290.6V294.8M802.9 290.8V294.8M804.3 299.1V303M805.6 293.7V297.4M806.9 296.1V299.8M808.2 296.4V300.2M809.8 300.4V305.1M811.3 299.3V304.1M812.8 299.1V302.4M814.3 299.1V302.4M815.8 303.2V306.7M817.2 309V312.7M818.7 304.2V308.7M820.1 310.1V313.8M821.5 307.6V310.8M822.9 306.8V311.5M824.2 306.5V311.1M825.6 312.1V315.7M826.9 314V317.7M828.3 314.6V317.9M829.6 311.5V316M831.1 315.9V319.5M832.6 318.7V322.6M834 317.8V322.7M835.5 321.5V325.2M836.9 324.9V330.5M838.3 319.7V325M839.7 328.1V333.8M841.1 322.3V328.1M842.4 325.2V331.1M843.8 326.5V332.1M845.1 329.8V334.6M846.4 328.3V333.9M847.7 329.9V335.9M849.2 332V335.8M850.7 334V338.5M852.1 335.7V339.7M853.5 336.1V340.4M854.9 339.7V343M856.3 341.5V346.1M857.7 339.7V342.9M859 340.9V344.7M860.4 342V346.2M861.7 343.4V347.2M863 344.6V348.8M864.4 347.3V351.7M865.9 349.8V354.7M867.3 348.5V353.6M868.7 352.8V356.2M870.1 352.5V356.2M871.4 359.4V363.6M872.8 357V360.4M874.1 359.5V362.8M875.4 357V362M876.7 359.2V363.3M878.2 362.1V367.6M879.6 361.8V367.6M881 363.8V371.5M882.3 368.4V374.6M883.7 365.7V373.4M885.1 367.4V374.4M886.4 369.1V379.4M887.7 371.2V378.8M889 374.9V381.4M891.8 376V381.6M893.2 381.4V386.9M894.6 382V389M895.9 382V390.3M898.6 387V395.8M899.9 391.6V401.4M902.7 394.5V405.8M906.8 392.3V410M908.1 401.1V415.7M909.4 400.2V412.7M910.8 407.2V418.7M912.2 404.9V415.3M913.6 412.2V421.8M914.9 415.7V425.1M918.9 427.5V443.3M920.3 423.3V439.1M921.6 426.5V446.5M923 429.2V449.5M924.4 425.5V444.5M925.7 430.2V454.4M928.4 436V456.4M931.1 444.3V463M939.2 449.5V472.2M941.9 460.6V486.9M944.5 448.2V473.1M949.9 458.9V483.6M951.2 468.8V492.1M955.3 462.9V485.7M956.6 475.4V496.5M964.6 484.7V503M965.9 471.7V488.4M967.3 508.1V524.1M968.6 474.2V493.3M969.9 495.3V508.9M971.3 505.8V524.2M975.3 499.2V511.7M979.3 529V542.8M950 463.4V473.4M960 475V485M921.7 476V484M928.4 489.5V497.5M906.7 502.8V510.8M935 502.8V510.8M961.8 511.2V519.2M963.5 524.5V532.5M976.8 543V551M975 566V574M955 470V480M965 485V495M970 495V505M975 505V515M945 481V489M955 494V502"/><path stroke-width="2.4" d="M196.6 71.3h27.6M196.6 104.8h27.6M234.7 70.7h27.6M234.7 88.6h27.6M263.8 74.2h27.6M263.8 82.6h27.6M286.2 75h27.6M286.2 83.5h27.6M306 78h27.6M306 86h27.6M323 80h27.6M323 88h27.6M335.8 82h27.6M335.8 90h27.6M348.6 84.5h27.6M348.6 92.5h27.6M360.7 88.2h27.6M360.7 92.2h27.6M371.2 92.2h27.6M371.2 96h27.6M380.8 94.8h27.6M380.8 99.1h27.6M389.7 97.3h27.6M389.7 101.4h27.6M397.9 99.8h27.6M397.9 103.8h27.6M405.6 102.6h27.6M405.6 106.6h27.6M412.8 104.6h27.6M412.8 108.6h27.6M419.6 107.4h27.6M419.6 111.4h27.6M426.1 108.9h27.6M426.1 112.7h27.6M432.1 112.8h27.6M432.1 117h27.6M437.9 113.5h27.6M437.9 117.5h27.6M443.4 116.6h27.6M443.4 120.6h27.6M448.7 117.1h27.6M448.7 121h27.6M453.7 119.2h27.6M453.7 123.3h27.6M458.5 120.4h27.6M458.5 124.1h27.6M463.2 123h27.6M463.2 127.3h27.6M467.6 124.1h27.6M467.6 128h27.6M471.9 124.5h27.6M471.9 128.7h27.6M476 126.4h27.6M476 130.1h27.6M480 128.3h27.6M480 132.1h27.6M483.9 127.7h27.6M483.9 132h27.6M487.6 129.9h27.6M487.6 133.7h27.6M491.2 131.3h27.6M491.2 135.3h27.6M494.7 131.4h27.6M494.7 135.4h27.6M498.1 134.6h27.6M498.1 138.5h27.6M501.4 136.9h27.6M501.4 141.1h27.6M504.7 135.4h27.6M504.7 139.7h27.6M507.8 137.1h27.6M507.8 141.3h27.6M510.8 139.2h27.6M510.8 143.4h27.6M513.8 140.6h27.6M513.8 144.6h27.6M516.7 141.7h27.6M516.7 145.7h27.6M519.5 142.5h27.6M519.5 146.2h27.6M522.3 143.4h27.6M522.3 147.1h27.6M525 143.5h27.6M525 147.2h27.6M527.6 147.2h27.6M527.6 151.1h27.6M530.2 147.8h27.6M530.2 151.6h27.6M532.7 147.2h27.6M532.7 151h27.6M535.1 148.6h27.6M535.1 152.5h27.6M537.6 149.3h27.6M537.6 153.5h27.6M539.9 150.3h27.6M539.9 154.6h27.6M542.2 151.1h27.6M542.2 154.9h27.6M544.5 154.9h27.6M544.5 158.8h27.6M546.7 153.9h27.6M546.7 157.8h27.6M548.9 155.5h27.6M548.9 159.9h27.6M551.1 155.8h27.6M551.1 160h27.6M553.2 157.4h27.6M553.2 161.1h27.6M555.2 159.3h27.6M555.2 163.5h27.6M557.3 158.8h27.6M557.3 163.2h27.6M559.3 161.4h27.6M559.3 165h27.6M561.2 159.9h27.6M561.2 164.3h27.6M563.2 162.2h27.6M563.2 166.6h27.6M565.1 164.2h27.6M565.1 167.8h27.6M566.9 164.4h27.6M566.9 168.3h27.6M568.8 163.7h27.6M568.8 168h27.6M570.6 164.3h27.6M570.6 168.8h27.6M572.3 165.8h27.6M572.3 170.1h27.6M574.1 166.4h27.6M574.1 170.7h27.6M575.8 168.1h27.6M575.8 172.7h27.6M577.5 168.7h27.6M577.5 172.7h27.6M579.2 168.7h27.6M579.2 173.2h27.6M580.9 169h27.6M580.9 173.5h27.6M582.5 170.8h27.6M582.5 174.6h27.6M584.1 172.2h27.6M584.1 176.1h27.6M585.7 173.8h27.6M585.7 177.7h27.6M587.3 174.4h27.6M587.3 178h27.6M588.8 175.1h27.6M588.8 179.4h27.6M590.3 176.6h27.6M590.3 180.8h27.6M591.8 176.7h27.6M591.8 180.4h27.6M593.3 175.2h27.6M593.3 179h27.6M594.8 177.1h27.6M594.8 181.4h27.6M596.2 176.7h27.6M596.2 180.5h27.6M597.7 179.2h27.6M597.7 182.8h27.6M599.1 177.2h27.6M599.1 181.5h27.6M600.5 180h27.6M600.5 183.8h27.6M601.8 181h27.6M601.8 184.4h27.6M603.2 181.8h27.6M603.2 185.9h27.6M604.6 181.7h27.6M604.6 185.5h27.6M605.9 185.5h27.6M605.9 189.6h27.6M607.2 182.1h27.6M607.2 186.3h27.6M608.5 184h27.6M608.5 188.7h27.6M611.1 183.9h27.6M611.1 187.6h27.6M613.6 183.8h27.6M613.6 188.5h27.6M616 185.7h27.6M616 189.9h27.6M618.4 185.3h27.6M618.4 189.9h27.6M620.8 188.9h27.6M620.8 192.9h27.6M623.1 187.2h27.6M623.1 191.5h27.6M625.3 192.2h27.6M625.3 196h27.6M627.6 192.3h27.6M627.6 195.6h27.6M629.7 194.3h27.6M629.7 197.7h27.6M631.9 192.5h27.6M631.9 196.3h27.6M634 197.7h27.6M634 200.9h27.6M636 198h27.6M636 201.9h27.6M638 198.6h27.6M638 202.9h27.6M640 198.5h27.6M640 202.1h27.6M642 200.5h27.6M642 205.2h27.6M643.9 201h27.6M643.9 204.3h27.6M645.8 204.2h27.6M645.8 207.4h27.6M647.7 200.6h27.6M647.7 203.8h27.6M649.5 204h27.6M649.5 208.2h27.6M651.3 207.5h27.6M651.3 211h27.6M653.1 207.6h27.6M653.1 211.4h27.6M654.8 208.9h27.6M654.8 212.3h27.6M656.5 209.3h27.6M656.5 213.6h27.6M658.2 209.1h27.6M658.2 213.3h27.6M659.9 208.3h27.6M659.9 211.9h27.6M661.6 210.8h27.6M661.6 215.6h27.6M663.2 210.3h27.6M663.2 214.5h27.6M664.8 211.8h27.6M664.8 215h27.6M666.4 212.7h27.6M666.4 216h27.6M667.9 213.1h27.6M667.9 217.4h27.6M669.5 212.1h27.6M669.5 216.5h27.6M671 216.1h27.6M671 219.6h27.6M672.5 215.4h27.6M672.5 219.9h27.6M674 218.2h27.6M674 221.8h27.6M675.4 220.4h27.6M675.4 224.2h27.6M676.9 218.7h27.6M676.9 222.7h27.6M678.3 218.4h27.6M678.3 222.3h27.6M679.7 216.4h27.6M679.7 220.7h27.6M681.1 219.3h27.6M681.1 223.9h27.6M682.5 220.9h27.6M682.5 224.7h27.6M683.8 221.4h27.6M683.8 226.1h27.6M685.2 222.3h27.6M685.2 225.7h27.6M686.5 221.3h27.6M686.5 226.1h27.6M687.8 225.4h27.6M687.8 228.7h27.6M689.8 224.7h27.6M689.8 228.7h27.6M691.7 227.1h27.6M691.7 231.8h27.6M693.5 225.5h27.6M693.5 228.9h27.6M695.4 228.2h27.6M695.4 232.1h27.6M697.2 230.8h27.6M697.2 235h27.6M699 231.9h27.6M699 236.1h27.6M700.8 228.6h27.6M700.8 233.1h27.6M702.5 231.6h27.6M702.5 236h27.6M704.2 232.4h27.6M704.2 236.4h27.6M705.9 236.3h27.6M705.9 240.4h27.6M707.6 236h27.6M707.6 239.9h27.6M709.2 235.3h27.6M709.2 238.6h27.6M710.8 237.5h27.6M710.8 240.8h27.6M712.4 237.4h27.6M712.4 241.2h27.6M714 239.4h27.6M714 243.1h27.6M715.5 239.7h27.6M715.5 243.1h27.6M717.1 241.2h27.6M717.1 245.9h27.6M718.6 244.4h27.6M718.6 248.3h27.6M720.1 247.5h27.6M720.1 251.1h27.6M721.6 245.7h27.6M721.6 249.3h27.6M723 248.5h27.6M723 252.2h27.6M724.4 241.8h27.6M724.4 246.5h27.6M725.9 247.7h27.6M725.9 252.2h27.6M727.3 249h27.6M727.3 252.9h27.6M728.7 249.6h27.6M728.7 253h27.6M730 248.7h27.6M730 253.6h27.6M731.4 245.3h27.6M731.4 250.6h27.6M732.7 247.8h27.6M732.7 254.3h27.6M734 250.3h27.6M734 256.5h27.6M735.3 252h27.6M735.3 258.7h27.6M737.1 251h27.6M737.1 257.2h27.6M738.8 254.4h27.6M738.8 259.6h27.6M740.4 255.8h27.6M740.4 260.1h27.6M742.1 256.9h27.6M742.1 261.4h27.6M743.7 258.6h27.6M743.7 262.8h27.6M745.3 260h27.6M745.3 265.7h27.6M746.9 260.4h27.6M746.9 264.2h27.6M748.4 262h27.6M748.4 265.7h27.6M750 261.4h27.6M750 265.9h27.6M751.5 263.7h27.6M751.5 267.8h27.6M753 263.8h27.6M753 268.3h27.6M754.5 267.5h27.6M754.5 271.5h27.6M755.9 271.2h27.6M755.9 276h27.6M757.4 272h27.6M757.4 276.5h27.6M758.8 268.4h27.6M758.8 273.1h27.6M760.2 271.9h27.6M760.2 275.9h27.6M761.6 272.1h27.6M761.6 276.4h27.6M763 270.1h27.6M763 273.5h27.6M764.3 270.5h27.6M764.3 273.7h27.6M765.7 273.5h27.6M765.7 278.3h27.6M767 276.1h27.6M767 279.6h27.6M768.3 274.9h27.6M768.3 278.3h27.6M769.9 276.4h27.6M769.9 280.6h27.6M771.5 278.2h27.6M771.5 281.6h27.6M773.1 278.7h27.6M773.1 283.2h27.6M774.6 279.8h27.6M774.6 283.2h27.6M776.2 282.6h27.6M776.2 286.8h27.6M777.7 285.2h27.6M777.7 289.8h27.6M779.2 285.9h27.6M779.2 289.9h27.6M780.6 284.8h27.6M780.6 288.9h27.6M782.1 287.1h27.6M782.1 291.5h27.6M783.5 288.4h27.6M783.5 293.2h27.6M785 286.3h27.6M785 290.2h27.6M786.4 292.5h27.6M786.4 296.9h27.6M787.7 290.6h27.6M787.7 294.8h27.6M789.1 290.8h27.6M789.1 294.8h27.6M790.5 299.1h27.6M790.5 303h27.6M791.8 293.7h27.6M791.8 297.4h27.6M793.1 296.1h27.6M793.1 299.8h27.6M794.4 296.4h27.6M794.4 300.2h27.6M796 300.4h27.6M796 305.1h27.6M797.5 299.3h27.6M797.5 304.1h27.6M799 299.1h27.6M799 302.4h27.6M800.5 299.1h27.6M800.5 302.4h27.6M802 303.2h27.6M802 306.7h27.6M803.4 309h27.6M803.4 312.7h27.6M804.9 304.2h27.6M804.9 308.7h27.6M806.3 310.1h27.6M806.3 313.8h27.6M807.7 307.6h27.6M807.7 310.8h27.6M809.1 306.8h27.6M809.1 311.5h27.6M810.4 306.5h27.6M810.4 311.1h27.6M811.8 312.1h27.6M811.8 315.7h27.6M813.1 314h27.6M813.1 317.7h27.6M814.5 314.6h27.6M814.5 317.9h27.6M815.8 311.5h27.6M815.8 316h27.6M817.3 315.9h27.6M817.3 319.5h27.6M818.8 318.7h27.6M818.8 322.6h27.6M820.2 317.8h27.6M820.2 322.7h27.6M821.7 321.5h27.6M821.7 325.2h27.6M823.1 324.9h27.6M823.1 330.5h27.6M824.5 319.7h27.6M824.5 325h27.6M825.9 328.1h27.6M825.9 333.8h27.6M827.3 322.3h27.6M827.3 328.1h27.6M828.6 325.2h27.6M828.6 331.1h27.6M830 326.5h27.6M830 332.1h27.6M831.3 329.8h27.6M831.3 334.6h27.6M832.6 328.3h27.6M832.6 333.9h27.6M833.9 329.9h27.6M833.9 335.9h27.6M835.4 332h27.6M835.4 335.8h27.6M836.9 334h27.6M836.9 338.5h27.6M838.3 335.7h27.6M838.3 339.7h27.6M839.7 336.1h27.6M839.7 340.4h27.6M841.1 339.7h27.6M841.1 343h27.6M842.5 341.5h27.6M842.5 346.1h27.6M843.9 339.7h27.6M843.9 342.9h27.6M845.2 340.9h27.6M845.2 344.7h27.6M846.6 342h27.6M846.6 346.2h27.6M847.9 343.4h27.6M847.9 347.2h27.6M849.2 344.6h27.6M849.2 348.8h27.6M850.6 347.3h27.6M850.6 351.7h27.6M852.1 349.8h27.6M852.1 354.7h27.6M853.5 348.5h27.6M853.5 353.6h27.6M854.9 352.8h27.6M854.9 356.2h27.6M856.3 352.5h27.6M856.3 356.2h27.6M857.6 359.4h27.6M857.6 363.6h27.6M859 357h27.6M859 360.4h27.6M860.3 359.5h27.6M860.3 362.8h27.6M861.6 357h27.6M861.6 362h27.6M862.9 359.2h27.6M862.9 363.3h27.6M864.4 362.1h27.6M864.4 367.6h27.6M865.8 361.8h27.6M865.8 367.6h27.6M867.2 363.8h27.6M867.2 371.5h27.6M868.5 368.4h27.6M868.5 374.6h27.6M869.9 365.7h27.6M869.9 373.4h27.6M871.3 367.4h27.6M871.3 374.4h27.6M872.6 369.1h27.6M872.6 379.4h27.6M873.9 371.2h27.6M873.9 378.8h27.6M875.2 374.9h27.6M875.2 381.4h27.6M878 376h27.6M878 381.6h27.6M879.4 381.4h27.6M879.4 386.9h27.6M880.8 382h27.6M880.8 389h27.6M882.1 382h27.6M882.1 390.3h27.6M884.8 387h27.6M884.8 395.8h27.6M886.1 391.6h27.6M886.1 401.4h27.6M888.9 394.5h27.6M888.9 405.8h27.6M893 392.3h27.6M893 410h27.6M894.3 401.1h27.6M894.3 415.7h27.6M895.6 400.2h27.6M895.6 412.7h27.6M897 407.2h27.6M897 418.7h27.6M898.4 404.9h27.6M898.4 415.3h27.6M899.8 412.2h27.6M899.8 421.8h27.6M901.1 415.7h27.6M901.1 425.1h27.6M905.1 427.5h27.6M905.1 443.3h27.6M906.5 423.3h27.6M906.5 439.1h27.6M907.8 426.5h27.6M907.8 446.5h27.6M909.2 429.2h27.6M909.2 449.5h27.6M910.6 425.5h27.6M910.6 444.5h27.6M911.9 430.2h27.6M911.9 454.4h27.6M914.6 436h27.6M914.6 456.4h27.6M917.3 444.3h27.6M917.3 463h27.6M925.4 449.5h27.6M925.4 472.2h27.6M928.1 460.6h27.6M928.1 486.9h27.6M930.7 448.2h27.6M930.7 473.1h27.6M936.1 458.9h27.6M936.1 483.6h27.6M937.4 468.8h27.6M937.4 492.1h27.6M941.5 462.9h27.6M941.5 485.7h27.6M942.8 475.4h27.6M942.8 496.5h27.6M950.8 484.7h27.6M950.8 503h27.6M952.1 471.7h27.6M952.1 488.4h27.6M953.5 508.1h27.6M953.5 524.1h27.6M954.8 474.2h27.6M954.8 493.3h27.6M956.1 495.3h27.6M956.1 508.9h27.6M957.5 505.8h27.6M957.5 524.2h27.6M961.5 499.2h27.6M961.5 511.7h27.6M965.5 529h27.6M965.5 542.8h27.6M936.2 463.4h27.6M936.2 473.4h27.6M946.2 475h27.6M946.2 485h27.6M907.9 476h27.6M907.9 484h27.6M914.6 489.5h27.6M914.6 497.5h27.6M892.9 502.8h27.6M892.9 510.8h27.6M921.2 502.8h27.6M921.2 510.8h27.6M948 511.2h27.6M948 519.2h27.6M949.7 524.5h27.6M949.7 532.5h27.6M963 543h27.6M963 551h27.6M961.2 566h27.6M961.2 574h27.6M941.2 470h27.6M941.2 480h27.6M951.2 485h27.6M951.2 495h27.6M956.2 495h27.6M956.2 505h27.6M961.2 505h27.6M961.2 515h27.6M931.2 481h27.6M931.2 489h27.6M941.2 494h27.6M941.2 502h27.6"/><path stroke-width="9" stroke-linecap="round" d="M210.4 84.2h0M248.5 78.8h0M277.6 78.6h0M300 79.2h0M319.8 82h0M336.8 84h0M349.6 86h0M362.4 88.5h0M374.5 90.2h0M385 94.1h0M394.6 96.9h0M403.5 99.4h0M411.7 101.8h0M419.4 104.6h0M426.6 106.6h0M433.4 109.4h0M439.9 110.8h0M445.9 114.9h0M451.7 115.5h0M457.2 118.6h0M462.5 119h0M467.5 121.2h0M472.3 122.2h0M477 125.2h0M481.4 126h0M485.7 126.6h0M489.8 128.3h0M493.8 130.2h0M497.7 129.9h0M501.4 131.8h0M505 133.3h0M508.5 133.4h0M511.9 136.5h0M515.2 139h0M518.5 137.6h0M521.6 139.2h0M524.6 141.3h0M527.6 142.6h0M530.5 143.7h0M533.3 144.3h0M536.1 145.2h0M538.8 145.4h0M541.4 149.1h0M544 149.7h0M546.5 149.1h0M548.9 150.5h0M551.4 151.4h0M553.7 152.4h0M556 153h0M558.3 156.9h0M560.5 155.8h0M562.7 157.7h0M564.9 157.9h0M567 159.3h0M569 161.4h0M571.1 161h0M573.1 163.2h0M575 162.1h0M577 164.4h0M578.9 166h0M580.7 166.3h0M582.6 165.9h0M584.4 166.5h0M586.1 167.9h0M587.9 168.5h0M589.6 170.4h0M591.3 170.7h0M593 170.9h0M594.7 171.3h0M596.3 172.7h0M597.9 174.1h0M599.5 175.8h0M601.1 176.2h0M602.6 177.3h0M604.1 178.7h0M605.6 178.5h0M607.1 177.1h0M608.6 179.2h0M610 178.6h0M611.5 181h0M612.9 179.3h0M614.3 181.9h0M615.6 182.7h0M617 183.8h0M618.4 183.6h0M619.7 187.5h0M621 184.2h0M622.3 186.3h0M624.9 185.7h0M627.4 186.1h0M629.8 187.8h0M632.2 187.6h0M634.6 190.9h0M636.9 189.4h0M639.1 194.1h0M641.4 193.9h0M643.5 196h0M645.7 194.4h0M647.8 199.3h0M649.8 199.9h0M651.8 200.8h0M653.8 200.3h0M655.8 202.8h0M657.7 202.6h0M659.6 205.8h0M661.5 202.2h0M663.3 206.1h0M665.1 209.2h0M666.9 209.5h0M668.6 210.6h0M670.3 211.4h0M672 211.2h0M673.7 210.1h0M675.4 213.2h0M677 212.4h0M678.6 213.4h0M680.2 214.3h0M681.7 215.2h0M683.3 214.3h0M684.8 217.8h0M686.3 217.7h0M687.8 220h0M689.2 222.3h0M690.7 220.7h0M692.1 220.3h0M693.5 218.5h0M694.9 221.6h0M696.3 222.8h0M697.6 223.7h0M699 224h0M700.3 223.7h0M701.6 227.1h0M703.6 226.7h0M705.5 229.4h0M707.3 227.2h0M709.2 230.1h0M711 232.9h0M712.8 234h0M714.6 230.8h0M716.3 233.8h0M718 234.4h0M719.7 238.3h0M721.4 237.9h0M723 237h0M724.6 239.2h0M726.2 239.3h0M727.8 241.3h0M729.3 241.4h0M730.9 243.6h0M732.4 246.4h0M733.9 249.3h0M735.4 247.5h0M736.8 250.4h0M738.2 244.1h0M739.7 249.9h0M741.1 250.9h0M742.5 251.3h0M743.8 251.2h0M745.2 247.9h0M746.5 251.1h0M747.8 253.4h0M749.1 255.4h0M750.9 254.1h0M752.6 257h0M754.2 258h0M755.9 259.2h0M757.5 260.7h0M759.1 262.9h0M760.7 262.3h0M762.2 263.8h0M763.8 263.6h0M765.3 265.7h0M766.8 266.1h0M768.3 269.5h0M769.7 273.6h0M771.2 274.3h0M772.6 270.8h0M774 273.9h0M775.4 274.3h0M776.8 271.8h0M778.1 272.1h0M779.5 275.9h0M780.8 277.9h0M782.1 276.6h0M783.7 278.5h0M785.3 279.9h0M786.9 280.9h0M788.4 281.5h0M790 284.7h0M791.5 287.5h0M793 287.9h0M794.4 286.9h0M795.9 289.3h0M797.3 290.8h0M798.8 288.2h0M800.2 294.7h0M801.5 292.7h0M802.9 292.8h0M804.3 301.1h0M805.6 295.5h0M806.9 298h0M808.2 298.3h0M809.8 302.8h0M811.3 301.7h0M812.8 300.8h0M814.3 300.8h0M815.8 305h0M817.2 310.9h0M818.7 306.4h0M820.1 311.9h0M821.5 309.2h0M822.9 309.1h0M824.2 308.8h0M825.6 313.9h0M826.9 315.8h0M828.3 316.2h0M829.6 313.7h0M831.1 317.7h0M832.6 320.7h0M834 320.3h0M835.5 323.3h0M836.9 327.7h0M838.3 322.3h0M839.7 330.9h0M841.1 325.2h0M842.4 328.2h0M843.8 329.3h0M845.1 332.2h0M846.4 331.1h0M847.7 332.9h0M849.2 333.9h0M850.7 336.3h0M852.1 337.7h0M853.5 338.2h0M854.9 341.3h0M856.3 343.8h0M857.7 341.3h0M859 342.8h0M860.4 344.1h0M861.7 345.3h0M863 346.7h0M864.4 349.5h0M865.9 352.2h0M867.3 351.1h0M868.7 354.5h0M870.1 354.4h0M871.4 361.5h0M872.8 358.7h0M874.1 361.1h0M875.4 359.5h0M876.7 361.2h0M878.2 364.8h0M879.6 364.7h0M881 367.6h0M882.3 371.5h0M883.7 369.5h0M885.1 370.9h0M886.4 374.3h0M887.7 375h0M889 378.2h0M891.8 378.8h0M893.2 384.1h0M894.6 385.5h0M895.9 386.1h0M898.6 391.4h0M899.9 396.5h0M902.7 400.2h0M906.8 401.1h0M908.1 408.4h0M909.4 406.5h0M910.8 412.9h0M912.2 410.1h0M913.6 417h0M914.9 420.4h0M918.9 435.4h0M920.3 431.2h0M921.6 436.5h0M923 439.3h0M924.4 435h0M925.7 442.3h0M928.4 446.2h0M931.1 453.7h0M939.2 460.9h0M941.9 473.8h0M944.5 460.6h0M949.9 471.2h0M951.2 480.4h0M955.3 474.3h0M956.6 486h0M964.6 493.9h0M965.9 480h0M967.3 516.1h0M968.6 483.7h0M969.9 502.1h0M971.3 515h0M975.3 505.4h0M979.3 535.9h0M950 468.4h0M960 480h0M921.7 480h0M928.4 493.5h0M906.7 506.8h0M935 506.8h0M961.8 515.2h0M963.5 528.5h0M976.8 547h0M975 570h0M955 475h0M965 490h0M970 500h0M975 510h0M945 485h0M955 498h0"/></g>
<g stroke="#bdb315" fill="none"><path stroke-width="4.6" d="M210.4 60.7V84.6M248.5 60.4V70.7M277.6 63V70.5M300 67V74.5M319.8 70.5V78M336.8 73V80.5M349.6 76V83.5M362.4 79V86.5M374.5 82.7V86.9M385 85.1V89.6M394.6 88.3V92.3M403.5 89.6V93.5M411.7 92.1V95.9M419.4 95V99M426.6 96V99.8M433.4 98.9V103M439.9 100.5V104.3M445.9 103.5V107.7M451.7 105.1V108.8M457.2 107.5V111.3M462.5 108.5V112.7M467.5 110V114.2M472.3 111.9V115.7M477 114.4V118.6M481.4 116.6V120.7M485.7 117.1V121M489.8 118.5V122.5M493.8 118.5V122.4M497.7 120.1V124.1M501.4 123.8V127.8M505 124.4V128.5M508.5 125.4V129.7M511.9 126.9V130.9M515.2 126.2V130.1M518.5 126.8V130.5M521.6 129.3V133.6M524.6 130.3V134.5M527.6 133.1V137M530.5 132.8V136.6M533.3 133.3V137.1M536.1 135.6V139.4M538.8 135.4V139.8M541.4 136.7V141.1M544 137.1V141.2M546.5 138.1V141.9M548.9 138.8V142.5M551.4 142.6V146.5M553.7 141.2V145.2M556 144.2V148.3M558.3 143.7V147.8M560.5 145.5V149.1M562.7 146.7V150.5M564.9 146.8V150.4M567 147.5V151.4M569 148.4V152.6M571.1 149.5V153.7M573.1 149V153M575 150.1V154.3M577 153.4V157.7M578.9 152.5V156.5M580.7 152.3V155.9M582.6 153.9V157.6M584.4 157.8V162M586.1 154.8V159.1M587.9 156.6V160.5M589.6 156.1V159.9M591.3 158.6V162.9M593 160.4V164.2M594.7 162.2V166.4M596.3 160.6V164.9M597.9 160V163.6M599.5 160.9V164.7M601.1 162.1V166.9M602.6 162.9V166.8M604.1 162.8V167.9M605.6 164.8V169.9M607.1 163.7V168.6M608.6 164.9V170.6M610 169.5V174M611.5 167.1V171.3M612.9 166.5V171.3M614.3 170.5V174.5M615.6 167.5V172.7M617 169.4V173.6M618.4 169.6V174.8M619.7 169.3V174.3M621 171.7V177.6M622.3 172.9V178.5M624.9 173.3V177.9M627.4 178.4V183.2M629.8 177.1V182.9M632.2 176.7V183.4M634.6 178.1V186.3M636.9 178.8V185.2M639.1 177.6V185.2M641.4 179.7V186.5M643.5 181.6V188.3M645.7 183.9V192.4M647.8 184.1V190.2M649.8 183.5V190.1M651.8 184.5V192.6M653.8 185.9V194.1M655.8 182.6V191M657.7 187.8V194.7M659.6 190.1V197.4M661.5 188.1V197.3M663.3 189.4V196.6M665.1 190.2V198.6M666.9 192.5V202.7M668.6 192.1V202.6M670.3 193V202.5M672 188.4V197.2M673.7 190.9V201M675.4 196V206.1M677 191.3V202.9M678.6 195V204.4M680.2 194.8V206.5M681.7 195.3V205.6M683.3 197.2V208.5M684.8 196.9V206.6M686.3 196.9V205.4M687.8 199.1V206.4M689.2 198.4V206.3M690.7 201.6V208.5M692.1 200.2V206.4M693.5 199.2V205.1M694.9 204.2V210.7M696.3 204.5V210.2M697.6 205.4V211.7M699 208.8V215.2M700.3 204.9V211M701.6 207V213.1M703.6 207.9V212.9M705.5 204.8V210.1M707.3 208.7V214.5M709.2 206.8V212.9M711 211V216.7M712.8 210.4V214.8M714.6 210.9V215.8M716.3 216.8V221.4M718 213.9V218.9M719.7 214.8V220.2M721.4 217.1V221.9M723 212.8V218.5M724.6 216.6V220.9M726.2 217.2V222.5M727.8 220.3V225.4M729.3 220.7V225.9M730.9 220.1V224.7M732.4 224.9V230.5M733.9 222V226.1M735.4 222.1V226.5M736.8 224.3V230.2M738.2 223.4V228.4M739.7 228.3V232.3M741.1 226.3V232.1M742.5 225.6V230.4M743.8 232.2V236.4M745.2 227.2V232.6M746.5 228.7V233.8M747.8 230.5V234.6M749.1 231V235.5M750.9 232.4V236.3M752.6 230.5V233.7M754.2 233.8V237.5M755.9 230.9V234.5M757.5 234.9V239M759.1 236.4V239.9M760.7 238.6V242.2M762.2 237.3V240.8M763.8 240.4V244M765.3 239.7V244.2M766.8 242.4V245.7M768.3 241.2V245.2M769.7 245.6V250.1M771.2 246.8V250.8M772.6 243.2V247.1M774 246.9V250.4M775.4 247.7V251.3M776.8 245.2V249.7M778.1 248V251.6M779.5 250.8V254.5M780.8 250V253.8M782.1 253.2V257.5M783.7 255.3V259.9M785.3 254.3V258.2M786.9 258V261.5M788.4 260.7V264M790 257.6V261.8M791.5 262.4V266M793 263.4V267.3M794.4 265.1V268.4M795.9 263.6V267.1M797.3 264.5V269.3M798.8 263.6V268.2M800.2 268.3V271.9M801.5 269V273M802.9 269V273.8M804.3 269.9V273.7M805.6 270V273.2M806.9 268V271.3M808.2 271.8V276.1M809.8 270.7V275.2M811.3 275.3V279.1M812.8 274.8V279.5M814.3 282.4V286.1M815.8 277.6V282.3M817.2 278.8V282.2M818.7 284.7V288.9M820.1 279.4V283.5M821.5 285.6V290.2M822.9 287.4V290.9M824.2 285.9V289.6M825.6 284.7V288.3M826.9 286.6V291.3M828.3 289.6V293.2M829.6 292.1V295.5M831.1 292.2V296.7M832.6 293.3V297.5M834 292.8V297.1M835.5 297.1V300.9M836.9 294.3V298M838.3 295.6V300.3M839.7 298.8V302.6M841.1 300.9V304.9M842.4 301.6V305.3M843.8 302.7V306.5M845.1 301.4V306.2M846.4 305.4V309.9M847.7 300.7V305.1M849.2 304.5V309M850.7 304.6V308.9M852.1 306.7V310.3M853.5 310.9V314.4M854.9 312.7V316.6M856.3 310.2V314.7M857.7 313.2V317.9M859 318.5V322.2M860.4 316.3V320.9M861.7 320.1V323.8M863 320.1V324.6M864.4 321.7V326.1M865.9 320.5V324.4M867.3 323.1V326.9M868.7 327.8V331.9M870.1 323.3V327.4M871.4 323.3V328.4M872.8 329.5V333.4M874.1 326.5V331.8M875.4 328.3V334.6M876.7 330.3V336.9M878.2 329.7V336.2M879.6 330.6V338.3M881 329.6V338M882.3 332.7V341.2M883.7 332.1V339.6M885.1 336.4V344.1M886.4 336.9V344.7M887.7 340V347.5M889 338.1V346.6M890.4 342.1V350M891.8 342.8V352.4M893.2 344.4V353.6M894.6 344.7V354.2M895.9 345.6V354.6M897.3 345.5V356.6M898.6 344.5V357.4M899.9 346.5V359.3M901.3 347.4V361.3M902.7 353.3V365.9M904.1 347.2V362.3M905.4 355.6V369.4M906.8 352.9V368.1M909.4 355.9V369.8M910.8 353.8V363.1M912.2 358.1V366.9M913.6 366.1V374.9M914.9 365.7V373M916.2 366.1V374.8M918.9 367.9V374M920.3 370.3V377M921.6 374.9V380.3M923 378V384M924.4 383.3V387.9M925.7 382.9V388M927 385.4V391.2M931.1 385.6V393.2M932.5 393.6V402.1M933.8 387.1V397.7M935.1 386.5V396.1M937.9 394.3V408.7M940.5 405.9V419.9M941.9 402.2V422.3M945.9 401.5V417.2M947.2 412.1V429.5M949.9 405.2V423.9M957.9 422.8V434.6M959.3 413.8V429.3M960.6 435V447.8M963.2 422.7V437.5M964.6 438.8V452.1M965.9 421.4V433.2M968.6 440.7V450.5M969.9 442.7V453.6M972.6 429.4V441.2M973.9 448.5V459.4M979.3 436V444.7M981.9 456.6V466.5M975 467V475M978 486V494M976 496V504M980 516V524M968 474V482"/><path stroke-width="2.4" d="M196.6 60.7h27.6M196.6 84.6h27.6M234.7 60.4h27.6M234.7 70.7h27.6M263.8 63h27.6M263.8 70.5h27.6M286.2 67h27.6M286.2 74.5h27.6M306 70.5h27.6M306 78h27.6M323 73h27.6M323 80.5h27.6M335.8 76h27.6M335.8 83.5h27.6M348.6 79h27.6M348.6 86.5h27.6M360.7 82.7h27.6M360.7 86.9h27.6M371.2 85.1h27.6M371.2 89.6h27.6M380.8 88.3h27.6M380.8 92.3h27.6M389.7 89.6h27.6M389.7 93.5h27.6M397.9 92.1h27.6M397.9 95.9h27.6M405.6 95h27.6M405.6 99h27.6M412.8 96h27.6M412.8 99.8h27.6M419.6 98.9h27.6M419.6 103h27.6M426.1 100.5h27.6M426.1 104.3h27.6M432.1 103.5h27.6M432.1 107.7h27.6M437.9 105.1h27.6M437.9 108.8h27.6M443.4 107.5h27.6M443.4 111.3h27.6M448.7 108.5h27.6M448.7 112.7h27.6M453.7 110h27.6M453.7 114.2h27.6M458.5 111.9h27.6M458.5 115.7h27.6M463.2 114.4h27.6M463.2 118.6h27.6M467.6 116.6h27.6M467.6 120.7h27.6M471.9 117.1h27.6M471.9 121h27.6M476 118.5h27.6M476 122.5h27.6M480 118.5h27.6M480 122.4h27.6M483.9 120.1h27.6M483.9 124.1h27.6M487.6 123.8h27.6M487.6 127.8h27.6M491.2 124.4h27.6M491.2 128.5h27.6M494.7 125.4h27.6M494.7 129.7h27.6M498.1 126.9h27.6M498.1 130.9h27.6M501.4 126.2h27.6M501.4 130.1h27.6M504.7 126.8h27.6M504.7 130.5h27.6M507.8 129.3h27.6M507.8 133.6h27.6M510.8 130.3h27.6M510.8 134.5h27.6M513.8 133.1h27.6M513.8 137h27.6M516.7 132.8h27.6M516.7 136.6h27.6M519.5 133.3h27.6M519.5 137.1h27.6M522.3 135.6h27.6M522.3 139.4h27.6M525 135.4h27.6M525 139.8h27.6M527.6 136.7h27.6M527.6 141.1h27.6M530.2 137.1h27.6M530.2 141.2h27.6M532.7 138.1h27.6M532.7 141.9h27.6M535.1 138.8h27.6M535.1 142.5h27.6M537.6 142.6h27.6M537.6 146.5h27.6M539.9 141.2h27.6M539.9 145.2h27.6M542.2 144.2h27.6M542.2 148.3h27.6M544.5 143.7h27.6M544.5 147.8h27.6M546.7 145.5h27.6M546.7 149.1h27.6M548.9 146.7h27.6M548.9 150.5h27.6M551.1 146.8h27.6M551.1 150.4h27.6M553.2 147.5h27.6M553.2 151.4h27.6M555.2 148.4h27.6M555.2 152.6h27.6M557.3 149.5h27.6M557.3 153.7h27.6M559.3 149h27.6M559.3 153h27.6M561.2 150.1h27.6M561.2 154.3h27.6M563.2 153.4h27.6M563.2 157.7h27.6M565.1 152.5h27.6M565.1 156.5h27.6M566.9 152.3h27.6M566.9 155.9h27.6M568.8 153.9h27.6M568.8 157.6h27.6M570.6 157.8h27.6M570.6 162h27.6M572.3 154.8h27.6M572.3 159.1h27.6M574.1 156.6h27.6M574.1 160.5h27.6M575.8 156.1h27.6M575.8 159.9h27.6M577.5 158.6h27.6M577.5 162.9h27.6M579.2 160.4h27.6M579.2 164.2h27.6M580.9 162.2h27.6M580.9 166.4h27.6M582.5 160.6h27.6M582.5 164.9h27.6M584.1 160h27.6M584.1 163.6h27.6M585.7 160.9h27.6M585.7 164.7h27.6M587.3 162.1h27.6M587.3 166.9h27.6M588.8 162.9h27.6M588.8 166.8h27.6M590.3 162.8h27.6M590.3 167.9h27.6M591.8 164.8h27.6M591.8 169.9h27.6M593.3 163.7h27.6M593.3 168.6h27.6M594.8 164.9h27.6M594.8 170.6h27.6M596.2 169.5h27.6M596.2 174h27.6M597.7 167.1h27.6M597.7 171.3h27.6M599.1 166.5h27.6M599.1 171.3h27.6M600.5 170.5h27.6M600.5 174.5h27.6M601.8 167.5h27.6M601.8 172.7h27.6M603.2 169.4h27.6M603.2 173.6h27.6M604.6 169.6h27.6M604.6 174.8h27.6M605.9 169.3h27.6M605.9 174.3h27.6M607.2 171.7h27.6M607.2 177.6h27.6M608.5 172.9h27.6M608.5 178.5h27.6M611.1 173.3h27.6M611.1 177.9h27.6M613.6 178.4h27.6M613.6 183.2h27.6M616 177.1h27.6M616 182.9h27.6M618.4 176.7h27.6M618.4 183.4h27.6M620.8 178.1h27.6M620.8 186.3h27.6M623.1 178.8h27.6M623.1 185.2h27.6M625.3 177.6h27.6M625.3 185.2h27.6M627.6 179.7h27.6M627.6 186.5h27.6M629.7 181.6h27.6M629.7 188.3h27.6M631.9 183.9h27.6M631.9 192.4h27.6M634 184.1h27.6M634 190.2h27.6M636 183.5h27.6M636 190.1h27.6M638 184.5h27.6M638 192.6h27.6M640 185.9h27.6M640 194.1h27.6M642 182.6h27.6M642 191h27.6M643.9 187.8h27.6M643.9 194.7h27.6M645.8 190.1h27.6M645.8 197.4h27.6M647.7 188.1h27.6M647.7 197.3h27.6M649.5 189.4h27.6M649.5 196.6h27.6M651.3 190.2h27.6M651.3 198.6h27.6M653.1 192.5h27.6M653.1 202.7h27.6M654.8 192.1h27.6M654.8 202.6h27.6M656.5 193h27.6M656.5 202.5h27.6M658.2 188.4h27.6M658.2 197.2h27.6M659.9 190.9h27.6M659.9 201h27.6M661.6 196h27.6M661.6 206.1h27.6M663.2 191.3h27.6M663.2 202.9h27.6M664.8 195h27.6M664.8 204.4h27.6M666.4 194.8h27.6M666.4 206.5h27.6M667.9 195.3h27.6M667.9 205.6h27.6M669.5 197.2h27.6M669.5 208.5h27.6M671 196.9h27.6M671 206.6h27.6M672.5 196.9h27.6M672.5 205.4h27.6M674 199.1h27.6M674 206.4h27.6M675.4 198.4h27.6M675.4 206.3h27.6M676.9 201.6h27.6M676.9 208.5h27.6M678.3 200.2h27.6M678.3 206.4h27.6M679.7 199.2h27.6M679.7 205.1h27.6M681.1 204.2h27.6M681.1 210.7h27.6M682.5 204.5h27.6M682.5 210.2h27.6M683.8 205.4h27.6M683.8 211.7h27.6M685.2 208.8h27.6M685.2 215.2h27.6M686.5 204.9h27.6M686.5 211h27.6M687.8 207h27.6M687.8 213.1h27.6M689.8 207.9h27.6M689.8 212.9h27.6M691.7 204.8h27.6M691.7 210.1h27.6M693.5 208.7h27.6M693.5 214.5h27.6M695.4 206.8h27.6M695.4 212.9h27.6M697.2 211h27.6M697.2 216.7h27.6M699 210.4h27.6M699 214.8h27.6M700.8 210.9h27.6M700.8 215.8h27.6M702.5 216.8h27.6M702.5 221.4h27.6M704.2 213.9h27.6M704.2 218.9h27.6M705.9 214.8h27.6M705.9 220.2h27.6M707.6 217.1h27.6M707.6 221.9h27.6M709.2 212.8h27.6M709.2 218.5h27.6M710.8 216.6h27.6M710.8 220.9h27.6M712.4 217.2h27.6M712.4 222.5h27.6M714 220.3h27.6M714 225.4h27.6M715.5 220.7h27.6M715.5 225.9h27.6M717.1 220.1h27.6M717.1 224.7h27.6M718.6 224.9h27.6M718.6 230.5h27.6M720.1 222h27.6M720.1 226.1h27.6M721.6 222.1h27.6M721.6 226.5h27.6M723 224.3h27.6M723 230.2h27.6M724.4 223.4h27.6M724.4 228.4h27.6M725.9 228.3h27.6M725.9 232.3h27.6M727.3 226.3h27.6M727.3 232.1h27.6M728.7 225.6h27.6M728.7 230.4h27.6M730 232.2h27.6M730 236.4h27.6M731.4 227.2h27.6M731.4 232.6h27.6M732.7 228.7h27.6M732.7 233.8h27.6M734 230.5h27.6M734 234.6h27.6M735.3 231h27.6M735.3 235.5h27.6M737.1 232.4h27.6M737.1 236.3h27.6M738.8 230.5h27.6M738.8 233.7h27.6M740.4 233.8h27.6M740.4 237.5h27.6M742.1 230.9h27.6M742.1 234.5h27.6M743.7 234.9h27.6M743.7 239h27.6M745.3 236.4h27.6M745.3 239.9h27.6M746.9 238.6h27.6M746.9 242.2h27.6M748.4 237.3h27.6M748.4 240.8h27.6M750 240.4h27.6M750 244h27.6M751.5 239.7h27.6M751.5 244.2h27.6M753 242.4h27.6M753 245.7h27.6M754.5 241.2h27.6M754.5 245.2h27.6M755.9 245.6h27.6M755.9 250.1h27.6M757.4 246.8h27.6M757.4 250.8h27.6M758.8 243.2h27.6M758.8 247.1h27.6M760.2 246.9h27.6M760.2 250.4h27.6M761.6 247.7h27.6M761.6 251.3h27.6M763 245.2h27.6M763 249.7h27.6M764.3 248h27.6M764.3 251.6h27.6M765.7 250.8h27.6M765.7 254.5h27.6M767 250h27.6M767 253.8h27.6M768.3 253.2h27.6M768.3 257.5h27.6M769.9 255.3h27.6M769.9 259.9h27.6M771.5 254.3h27.6M771.5 258.2h27.6M773.1 258h27.6M773.1 261.5h27.6M774.6 260.7h27.6M774.6 264h27.6M776.2 257.6h27.6M776.2 261.8h27.6M777.7 262.4h27.6M777.7 266h27.6M779.2 263.4h27.6M779.2 267.3h27.6M780.6 265.1h27.6M780.6 268.4h27.6M782.1 263.6h27.6M782.1 267.1h27.6M783.5 264.5h27.6M783.5 269.3h27.6M785 263.6h27.6M785 268.2h27.6M786.4 268.3h27.6M786.4 271.9h27.6M787.7 269h27.6M787.7 273h27.6M789.1 269h27.6M789.1 273.8h27.6M790.5 269.9h27.6M790.5 273.7h27.6M791.8 270h27.6M791.8 273.2h27.6M793.1 268h27.6M793.1 271.3h27.6M794.4 271.8h27.6M794.4 276.1h27.6M796 270.7h27.6M796 275.2h27.6M797.5 275.3h27.6M797.5 279.1h27.6M799 274.8h27.6M799 279.5h27.6M800.5 282.4h27.6M800.5 286.1h27.6M802 277.6h27.6M802 282.3h27.6M803.4 278.8h27.6M803.4 282.2h27.6M804.9 284.7h27.6M804.9 288.9h27.6M806.3 279.4h27.6M806.3 283.5h27.6M807.7 285.6h27.6M807.7 290.2h27.6M809.1 287.4h27.6M809.1 290.9h27.6M810.4 285.9h27.6M810.4 289.6h27.6M811.8 284.7h27.6M811.8 288.3h27.6M813.1 286.6h27.6M813.1 291.3h27.6M814.5 289.6h27.6M814.5 293.2h27.6M815.8 292.1h27.6M815.8 295.5h27.6M817.3 292.2h27.6M817.3 296.7h27.6M818.8 293.3h27.6M818.8 297.5h27.6M820.2 292.8h27.6M820.2 297.1h27.6M821.7 297.1h27.6M821.7 300.9h27.6M823.1 294.3h27.6M823.1 298h27.6M824.5 295.6h27.6M824.5 300.3h27.6M825.9 298.8h27.6M825.9 302.6h27.6M827.3 300.9h27.6M827.3 304.9h27.6M828.6 301.6h27.6M828.6 305.3h27.6M830 302.7h27.6M830 306.5h27.6M831.3 301.4h27.6M831.3 306.2h27.6M832.6 305.4h27.6M832.6 309.9h27.6M833.9 300.7h27.6M833.9 305.1h27.6M835.4 304.5h27.6M835.4 309h27.6M836.9 304.6h27.6M836.9 308.9h27.6M838.3 306.7h27.6M838.3 310.3h27.6M839.7 310.9h27.6M839.7 314.4h27.6M841.1 312.7h27.6M841.1 316.6h27.6M842.5 310.2h27.6M842.5 314.7h27.6M843.9 313.2h27.6M843.9 317.9h27.6M845.2 318.5h27.6M845.2 322.2h27.6M846.6 316.3h27.6M846.6 320.9h27.6M847.9 320.1h27.6M847.9 323.8h27.6M849.2 320.1h27.6M849.2 324.6h27.6M850.6 321.7h27.6M850.6 326.1h27.6M852.1 320.5h27.6M852.1 324.4h27.6M853.5 323.1h27.6M853.5 326.9h27.6M854.9 327.8h27.6M854.9 331.9h27.6M856.3 323.3h27.6M856.3 327.4h27.6M857.6 323.3h27.6M857.6 328.4h27.6M859 329.5h27.6M859 333.4h27.6M860.3 326.5h27.6M860.3 331.8h27.6M861.6 328.3h27.6M861.6 334.6h27.6M862.9 330.3h27.6M862.9 336.9h27.6M864.4 329.7h27.6M864.4 336.2h27.6M865.8 330.6h27.6M865.8 338.3h27.6M867.2 329.6h27.6M867.2 338h27.6M868.5 332.7h27.6M868.5 341.2h27.6M869.9 332.1h27.6M869.9 339.6h27.6M871.3 336.4h27.6M871.3 344.1h27.6M872.6 336.9h27.6M872.6 344.7h27.6M873.9 340h27.6M873.9 347.5h27.6M875.2 338.1h27.6M875.2 346.6h27.6M876.6 342.1h27.6M876.6 350h27.6M878 342.8h27.6M878 352.4h27.6M879.4 344.4h27.6M879.4 353.6h27.6M880.8 344.7h27.6M880.8 354.2h27.6M882.1 345.6h27.6M882.1 354.6h27.6M883.5 345.5h27.6M883.5 356.6h27.6M884.8 344.5h27.6M884.8 357.4h27.6M886.1 346.5h27.6M886.1 359.3h27.6M887.5 347.4h27.6M887.5 361.3h27.6M888.9 353.3h27.6M888.9 365.9h27.6M890.3 347.2h27.6M890.3 362.3h27.6M891.6 355.6h27.6M891.6 369.4h27.6M893 352.9h27.6M893 368.1h27.6M895.6 355.9h27.6M895.6 369.8h27.6M897 353.8h27.6M897 363.1h27.6M898.4 358.1h27.6M898.4 366.9h27.6M899.8 366.1h27.6M899.8 374.9h27.6M901.1 365.7h27.6M901.1 373h27.6M902.4 366.1h27.6M902.4 374.8h27.6M905.1 367.9h27.6M905.1 374h27.6M906.5 370.3h27.6M906.5 377h27.6M907.8 374.9h27.6M907.8 380.3h27.6M909.2 378h27.6M909.2 384h27.6M910.6 383.3h27.6M910.6 387.9h27.6M911.9 382.9h27.6M911.9 388h27.6M913.2 385.4h27.6M913.2 391.2h27.6M917.3 385.6h27.6M917.3 393.2h27.6M918.7 393.6h27.6M918.7 402.1h27.6M920 387.1h27.6M920 397.7h27.6M921.3 386.5h27.6M921.3 396.1h27.6M924.1 394.3h27.6M924.1 408.7h27.6M926.7 405.9h27.6M926.7 419.9h27.6M928.1 402.2h27.6M928.1 422.3h27.6M932.1 401.5h27.6M932.1 417.2h27.6M933.4 412.1h27.6M933.4 429.5h27.6M936.1 405.2h27.6M936.1 423.9h27.6M944.1 422.8h27.6M944.1 434.6h27.6M945.5 413.8h27.6M945.5 429.3h27.6M946.8 435h27.6M946.8 447.8h27.6M949.4 422.7h27.6M949.4 437.5h27.6M950.8 438.8h27.6M950.8 452.1h27.6M952.1 421.4h27.6M952.1 433.2h27.6M954.8 440.7h27.6M954.8 450.5h27.6M956.1 442.7h27.6M956.1 453.6h27.6M958.8 429.4h27.6M958.8 441.2h27.6M960.1 448.5h27.6M960.1 459.4h27.6M965.5 436h27.6M965.5 444.7h27.6M968.1 456.6h27.6M968.1 466.5h27.6M961.2 467h27.6M961.2 475h27.6M964.2 486h27.6M964.2 494h27.6M962.2 496h27.6M962.2 504h27.6M966.2 516h27.6M966.2 524h27.6M954.2 474h27.6M954.2 482h27.6"/><path stroke-width="9" stroke-linecap="round" d="M210.4 70.9h0M248.5 65h0M277.6 66.5h0M300 70.5h0M319.8 74h0M336.8 76.5h0M349.6 79.5h0M362.4 82.5h0M374.5 84.8h0M385 87.3h0M394.6 90.3h0M403.5 91.6h0M411.7 94h0M419.4 97h0M426.6 97.9h0M433.4 101h0M439.9 102.4h0M445.9 105.6h0M451.7 107h0M457.2 109.4h0M462.5 110.6h0M467.5 112.1h0M472.3 113.8h0M477 116.5h0M481.4 118.6h0M485.7 119.1h0M489.8 120.5h0M493.8 120.5h0M497.7 122.1h0M501.4 125.8h0M505 126.5h0M508.5 127.6h0M511.9 128.9h0M515.2 128.2h0M518.5 128.6h0M521.6 131.5h0M524.6 132.4h0M527.6 135.1h0M530.5 134.7h0M533.3 135.2h0M536.1 137.5h0M538.8 137.6h0M541.4 138.9h0M544 139.2h0M546.5 140h0M548.9 140.6h0M551.4 144.6h0M553.7 143.2h0M556 146.2h0M558.3 145.7h0M560.5 147.3h0M562.7 148.6h0M564.9 148.6h0M567 149.4h0M569 150.5h0M571.1 151.6h0M573.1 151h0M575 152.2h0M577 155.6h0M578.9 154.5h0M580.7 154.1h0M582.6 155.8h0M584.4 159.9h0M586.1 156.9h0M587.9 158.6h0M589.6 158h0M591.3 160.8h0M593 162.3h0M594.7 164.3h0M596.3 162.8h0M597.9 161.8h0M599.5 162.8h0M601.1 164.5h0M602.6 164.8h0M604.1 165.4h0M605.6 167.3h0M607.1 166.2h0M608.6 167.8h0M610 171.7h0M611.5 169.2h0M612.9 168.9h0M614.3 172.5h0M615.6 170.1h0M617 171.5h0M618.4 172.2h0M619.7 171.8h0M621 174.7h0M622.3 175.7h0M624.9 175.6h0M627.4 180.8h0M629.8 180h0M632.2 180h0M634.6 182.2h0M636.9 182h0M639.1 181.4h0M641.4 183.1h0M643.5 184.9h0M645.7 188.1h0M647.8 187.2h0M649.8 186.8h0M651.8 188.5h0M653.8 190h0M655.8 186.8h0M657.7 191.3h0M659.6 193.8h0M661.5 192.7h0M663.3 193h0M665.1 194.4h0M666.9 197.6h0M668.6 197.3h0M670.3 197.8h0M672 192.8h0M673.7 196h0M675.4 201h0M677 197.1h0M678.6 199.7h0M680.2 200.6h0M681.7 200.5h0M683.3 202.8h0M684.8 201.8h0M686.3 201.1h0M687.8 202.7h0M689.2 202.4h0M690.7 205h0M692.1 203.3h0M693.5 202.1h0M694.9 207.4h0M696.3 207.3h0M697.6 208.5h0M699 212h0M700.3 207.9h0M701.6 210.1h0M703.6 210.4h0M705.5 207.4h0M707.3 211.6h0M709.2 209.9h0M711 213.9h0M712.8 212.6h0M714.6 213.4h0M716.3 219.1h0M718 216.4h0M719.7 217.5h0M721.4 219.5h0M723 215.7h0M724.6 218.8h0M726.2 219.8h0M727.8 222.9h0M729.3 223.3h0M730.9 222.4h0M732.4 227.7h0M733.9 224.1h0M735.4 224.3h0M736.8 227.3h0M738.2 225.9h0M739.7 230.3h0M741.1 229.2h0M742.5 228h0M743.8 234.3h0M745.2 229.9h0M746.5 231.3h0M747.8 232.6h0M749.1 233.3h0M750.9 234.3h0M752.6 232.1h0M754.2 235.6h0M755.9 232.7h0M757.5 237h0M759.1 238.1h0M760.7 240.4h0M762.2 239h0M763.8 242.2h0M765.3 242h0M766.8 244h0M768.3 243.2h0M769.7 247.9h0M771.2 248.8h0M772.6 245.2h0M774 248.7h0M775.4 249.5h0M776.8 247.5h0M778.1 249.8h0M779.5 252.7h0M780.8 251.9h0M782.1 255.4h0M783.7 257.6h0M785.3 256.3h0M786.9 259.7h0M788.4 262.4h0M790 259.7h0M791.5 264.2h0M793 265.4h0M794.4 266.8h0M795.9 265.4h0M797.3 266.9h0M798.8 265.9h0M800.2 270.1h0M801.5 271h0M802.9 271.4h0M804.3 271.8h0M805.6 271.6h0M806.9 269.7h0M808.2 273.9h0M809.8 273h0M811.3 277.2h0M812.8 277.1h0M814.3 284.3h0M815.8 279.9h0M817.2 280.5h0M818.7 286.8h0M820.1 281.5h0M821.5 287.9h0M822.9 289.1h0M824.2 287.7h0M825.6 286.5h0M826.9 288.9h0M828.3 291.4h0M829.6 293.8h0M831.1 294.4h0M832.6 295.4h0M834 295h0M835.5 299h0M836.9 296.2h0M838.3 297.9h0M839.7 300.7h0M841.1 302.9h0M842.4 303.4h0M843.8 304.6h0M845.1 303.8h0M846.4 307.6h0M847.7 302.9h0M849.2 306.8h0M850.7 306.7h0M852.1 308.5h0M853.5 312.6h0M854.9 314.6h0M856.3 312.5h0M857.7 315.5h0M859 320.4h0M860.4 318.6h0M861.7 322h0M863 322.4h0M864.4 323.9h0M865.9 322.4h0M867.3 325h0M868.7 329.8h0M870.1 325.4h0M871.4 325.8h0M872.8 331.4h0M874.1 329.1h0M875.4 331.5h0M876.7 333.6h0M878.2 332.9h0M879.6 334.4h0M881 333.8h0M882.3 336.9h0M883.7 335.9h0M885.1 340.2h0M886.4 340.8h0M887.7 343.7h0M889 342.4h0M890.4 346.1h0M891.8 347.6h0M893.2 349h0M894.6 349.4h0M895.9 350.1h0M897.3 351.1h0M898.6 350.9h0M899.9 352.9h0M901.3 354.3h0M902.7 359.6h0M904.1 354.7h0M905.4 362.5h0M906.8 360.5h0M909.4 362.8h0M910.8 358.4h0M912.2 362.5h0M913.6 370.5h0M914.9 369.4h0M916.2 370.4h0M918.9 370.9h0M920.3 373.6h0M921.6 377.6h0M923 381h0M924.4 385.6h0M925.7 385.4h0M927 388.3h0M931.1 389.4h0M932.5 397.9h0M933.8 392.4h0M935.1 391.3h0M937.9 401.5h0M940.5 412.9h0M941.9 412.2h0M945.9 409.3h0M947.2 420.8h0M949.9 414.6h0M957.9 428.7h0M959.3 421.6h0M960.6 441.4h0M963.2 430.1h0M964.6 445.5h0M965.9 427.3h0M968.6 445.6h0M969.9 448.1h0M972.6 435.3h0M973.9 453.9h0M979.3 440.4h0M981.9 461.5h0M975 471h0M978 490h0M976 500h0M980 520h0M968 478h0"/></g>
<path d="M207.9 64.4 209.9 65 211.9 65.5 213.9 66.1 215.9 66.7 217.9 67.3 219.9 67.8 221.9 68.4 223.9 69 225.9 69.6 227.9 70.2 229.9 70.8 231.9 71.4 233.9 72 235.9 72.7 237.9 73.3 239.9 73.9 241.9 74.5 243.9 75.2 245.9 75.8 247.9 76.4 249.9 77.1 251.9 77.7 253.9 78.3 255.9 79 257.9 79.6 259.9 80.3 261.9 80.9 263.9 81.6 265.9 82.3 267.9 82.9 269.9 83.6 271.9 84.3 273.9 85 275.9 85.6 277.9 86.3 279.9 87 281.9 87.7 283.9 88.4 285.9 89.1 287.9 89.8 289.9 90.5 291.9 91.2 293.9 91.9 295.9 92.6 297.9 93.3 299.9 94.1 301.9 94.8 303.9 95.5 305.9 96.3 307.9 97 309.9 97.7 311.9 98.5 313.9 99.2 315.9 100 317.9 100.7 319.9 101.5 321.9 102.2 323.9 103 325.9 103.8 327.9 104.5 329.9 105.3 331.9 106.1 333.9 106.9 335.9 107.7 337.9 108.4 339.9 109.2 341.9 110 343.9 110.8 345.9 111.6 347.9 112.4 349.9 113.3 351.9 114.1 353.9 114.9 355.9 115.7 357.9 116.5 359.9 117.4 361.9 118.2 363.9 119.1 365.9 119.9 367.9 120.7 369.9 121.6 371.9 122.5 373.9 123.3 375.9 124.2 377.9 125.1 379.9 125.9 381.9 126.8 383.9 127.7 385.9 128.6 387.9 129.5 389.9 130.4 391.9 131.3 393.9 132.2 395.9 133.1 397.9 134 399.9 134.9 401.9 135.9 403.9 136.8 405.9 137.7 407.9 138.7 409.9 139.6 411.9 140.6 413.9 141.5 415.9 142.5 417.9 143.4 419.9 144.4 421.9 145.4 423.9 146.4 425.9 147.4 427.9 148.3 429.9 149.3 431.9 150.3 433.9 151.4 435.9 152.4 437.9 153.4 439.9 154.4 441.9 155.5 443.9 156.5 445.9 157.5 447.9 158.6 449.9 159.6 451.9 160.7 453.9 161.8 455.9 162.9 457.9 163.9 459.9 165 461.9 166.1 463.9 167.2 465.9 168.3 467.9 169.4 469.9 170.6 471.9 171.7 473.9 172.8 475.9 174 477.9 175.1 479.9 176.3 481.9 177.4 483.9 178.6 485.9 179.8 487.9 181 489.9 182.2 491.9 183.4 493.9 184.6 495.9 185.8 497.9 187 499.9 188.2 501.9 189.5 503.9 190.7 505.9 192 507.9 193.3 509.9 194.5 511.9 195.8 513.9 197.1 515.9 198.4 517.9 199.7 519.9 201 521.9 202.3 523.9 203.7 525.9 205 527.9 206.4 529.9 207.7 531.9 209.1 533.9 210.5 535.9 211.8 537.9 213.2 539.9 214.6 541.9 216.1 543.9 217.5 545.9 218.9 547.9 220.4 549.9 221.8 551.9 223.3 553.9 224.7 555.9 226.2 557.9 227.7 559.9 229.2 561.9 230.7 563.9 232.3 565.9 233.8 567.9 235.4 569.9 236.9 571.9 238.5 573.9 240.1 575.9 241.7 577.9 243.3 579.9 244.9 581.9 246.5 583.9 248.1 585.9 249.8 587.9 251.4 589.9 253.1 591.9 254.8 593.9 256.5 595.9 258.2 597.9 259.9 599.9 261.7 601.9 263.4 603.9 265.2 605.9 266.9 607.9 268.7 609.9 270.5 611.9 272.3 613.9 274.2 615.9 276 617.9 277.8 619.9 279.7 621.9 281.6 623.9 283.5 625.9 285.4 627.9 287.3 629.9 289.2 631.9 291.2 633.9 293.2 635.9 295.1 637.9 297.1 639.9 299.1 641.9 301.2 643.9 303.2 645.9 305.2 647.9 307.3 649.9 309.4 651.9 311.5 653.9 313.6 655.9 315.7 657.9 317.9 659.9 320 661.9 322.2 663.9 324.4 665.9 326.6 667.9 328.9 669.9 331.1 671.9 333.4 673.9 335.6 675.9 337.9 677.9 340.2 679.9 342.6 681.9 344.9 683.9 347.3 685.9 349.7 687.9 352.1 689.9 354.5 691.9 356.9 693.9 359.4 695.9 361.8 697.9 364.3 699.9 366.8 701.9 369.4 703.9 371.9 705.9 374.5 707.9 377.1 709.9 379.7 711.9 382.3 713.9 385 715.9 387.6 717.9 390.3 719.9 393 721.9 395.7 723.9 398.5 725.9 401.3 727.9 404 729.9 406.8 731.9 409.7 733.9 412.5 735.9 415.4 737.9 418.3 739.9 421.2 741.9 424.1 743.9 427.1 745.9 430.1 747.9 433.1 749.9 436.1 751.9 439.2 753.9 442.2 755.9 445.3 757.9 448.5 759.9 451.6 761.9 454.8 763.9 458 765.9 461.2 767.9 464.4 769.9 467.7 771.9 470.9 773.9 474.3 775.9 477.6 777.9 480.9 779.9 484.3 781.9 487.7 783.9 491.2 785.9 494.6 787.9 498.1 789.9 501.6 791.9 505.2 793.9 508.7 795.9 512.3 797.9 515.9 799.9 519.6 801.9 523.2 803.9 526.9 805.9 530.7 807.9 534.4 809.9 538.2 811.9 542 813.9 545.8 815.9 549.7 817.9 553.6 819.9 557.5 821.9 561.4 823.9 565.4 825.9 569.4 827.9 573.4 829.9 577.5 831.9 581.6 833.9 585.7 835.9 589.9 837.9 594.1 839.9 598.3 841.9 602.5 843.9 606.8 845.9 611.1 847.9 615.4 849.9 619.8 851.9 624.2 853.9 628.6 855.9 633.1 857.9 637.6 859.9 642.1 861.9 646.6 863.9 651.2 865.9 655.9 867.9 660.5 869.9 665.2 871.9 669.9 873.9 674.7 875.9 679.5 877.9 684.3 879.9 689.1 881.9 694 883.9 699 885.9 703.9 887.9 708.9 889.9 714 891.9 719 893.9 724.1 895.9 729.3 897.9 734.4 899.9 739.6 901.9 744.9 903.9 750.2 905.9 755.5 907.9 760.8 909.9 766.2 911.9 771.7 913.9 777.1 915.9 782.6 917.9 788.2 919.9 793.8 921.9 799.4 923.9 805.1 925.9 810.7 927.9 816.5 929.9 822.3 931.9 828.1 933.9 833.9 935.9 839.8 937.9 845.8 939.9 851.7 941.9 857.8 943.9 863.8 945.9 869.9 947.9 876.1 949.9 882.2 951.9 888.5 953.9 894.7 955.9 901 957.9 907.4 959.9 913.8 961.9 920.2 963.9 926.7 965.9 933.2 967.9 939.8 969.9 946.4 971.9 953.1 973.9 959.8 975.9 966.5 977.9 973.3 979.9 980.1 981.9 987 983.9 993.9 985.9 1000.9 987.9 1007.9 989.9 1015" stroke="#1a1a1a" stroke-width="3.6" fill="none" stroke-dasharray="14.2 9.53" stroke-dashoffset="1"/>
<path d="M207.9 56.9 209.9 57.3 211.9 57.7 213.9 58.2 215.9 58.6 217.9 59.1 219.9 59.5 221.9 60 223.9 60.4 225.9 60.9 227.9 61.3 229.9 61.8 231.9 62.3 233.9 62.7 235.9 63.2 237.9 63.7 239.9 64.2 241.9 64.7 243.9 65.1 245.9 65.6 247.9 66.1 249.9 66.6 251.9 67.1 253.9 67.6 255.9 68.1 257.9 68.7 259.9 69.2 261.9 69.7 263.9 70.2 265.9 70.7 267.9 71.3 269.9 71.8 271.9 72.3 273.9 72.9 275.9 73.4 277.9 73.9 279.9 74.5 281.9 75 283.9 75.6 285.9 76.1 287.9 76.7 289.9 77.2 291.9 77.8 293.9 78.4 295.9 78.9 297.9 79.5 299.9 80.1 301.9 80.6 303.9 81.2 305.9 81.8 307.9 82.4 309.9 83 311.9 83.6 313.9 84.1 315.9 84.7 317.9 85.3 319.9 85.9 321.9 86.5 323.9 87.1 325.9 87.8 327.9 88.4 329.9 89 331.9 89.6 333.9 90.2 335.9 90.8 337.9 91.4 339.9 92.1 341.9 92.7 343.9 93.3 345.9 94 347.9 94.6 349.9 95.2 351.9 95.9 353.9 96.5 355.9 97.2 357.9 97.8 359.9 98.5 361.9 99.1 363.9 99.8 365.9 100.5 367.9 101.1 369.9 101.8 371.9 102.5 373.9 103.1 375.9 103.8 377.9 104.5 379.9 105.2 381.9 105.8 383.9 106.5 385.9 107.2 387.9 107.9 389.9 108.6 391.9 109.3 393.9 110 395.9 110.7 397.9 111.4 399.9 112.1 401.9 112.8 403.9 113.5 405.9 114.3 407.9 115 409.9 115.7 411.9 116.4 413.9 117.2 415.9 117.9 417.9 118.6 419.9 119.4 421.9 120.1 423.9 120.8 425.9 121.6 427.9 122.3 429.9 123.1 431.9 123.9 433.9 124.6 435.9 125.4 437.9 126.2 439.9 126.9 441.9 127.7 443.9 128.5 445.9 129.3 447.9 130 449.9 130.8 451.9 131.6 453.9 132.4 455.9 133.2 457.9 134 459.9 134.8 461.9 135.7 463.9 136.5 465.9 137.3 467.9 138.1 469.9 138.9 471.9 139.8 473.9 140.6 475.9 141.4 477.9 142.3 479.9 143.1 481.9 144 483.9 144.8 485.9 145.7 487.9 146.6 489.9 147.4 491.9 148.3 493.9 149.2 495.9 150 497.9 150.9 499.9 151.8 501.9 152.7 503.9 153.6 505.9 154.5 507.9 155.4 509.9 156.3 511.9 157.3 513.9 158.2 515.9 159.1 517.9 160 519.9 161 521.9 161.9 523.9 162.9 525.9 163.8 527.9 164.8 529.9 165.7 531.9 166.7 533.9 167.7 535.9 168.7 537.9 169.6 539.9 170.6 541.9 171.6 543.9 172.6 545.9 173.6 547.9 174.7 549.9 175.7 551.9 176.7 553.9 177.7 555.9 178.8 557.9 179.8 559.9 180.9 561.9 181.9 563.9 183 565.9 184 567.9 185.1 569.9 186.2 571.9 187.3 573.9 188.4 575.9 189.5 577.9 190.6 579.9 191.7 581.9 192.8 583.9 193.9 585.9 195.1 587.9 196.2 589.9 197.4 591.9 198.5 593.9 199.7 595.9 200.9 597.9 202 599.9 203.2 601.9 204.4 603.9 205.6 605.9 206.8 607.9 208 609.9 209.3 611.9 210.5 613.9 211.7 615.9 213 617.9 214.2 619.9 215.5 621.9 216.8 623.9 218 625.9 219.3 627.9 220.6 629.9 221.9 631.9 223.3 633.9 224.6 635.9 225.9 637.9 227.3 639.9 228.6 641.9 230 643.9 231.3 645.9 232.7 647.9 234.1 649.9 235.5 651.9 236.9 653.9 238.3 655.9 239.7 657.9 241.2 659.9 242.6 661.9 244.1 663.9 245.6 665.9 247 667.9 248.5 669.9 250 671.9 251.5 673.9 253 675.9 254.6 677.9 256.1 679.9 257.7 681.9 259.2 683.9 260.8 685.9 262.4 687.9 264 689.9 265.6 691.9 267.2 693.9 268.8 695.9 270.5 697.9 272.1 699.9 273.8 701.9 275.5 703.9 277.2 705.9 278.9 707.9 280.6 709.9 282.3 711.9 284 713.9 285.8 715.9 287.5 717.9 289.3 719.9 291.1 721.9 292.9 723.9 294.7 725.9 296.6 727.9 298.4 729.9 300.3 731.9 302.1 733.9 304 735.9 305.9 737.9 307.8 739.9 309.7 741.9 311.7 743.9 313.6 745.9 315.6 747.9 317.6 749.9 319.6 751.9 321.6 753.9 323.6 755.9 325.6 757.9 327.7 759.9 329.8 761.9 331.9 763.9 334 765.9 336.1 767.9 338.2 769.9 340.4 771.9 342.5 773.9 344.7 775.9 346.9 777.9 349.1 779.9 351.3 781.9 353.6 783.9 355.8 785.9 358.1 787.9 360.4 789.9 362.7 791.9 365.1 793.9 367.4 795.9 369.8 797.9 372.1 799.9 374.5 801.9 377 803.9 379.4 805.9 381.8 807.9 384.3 809.9 386.8 811.9 389.3 813.9 391.8 815.9 394.4 817.9 396.9 819.9 399.5 821.9 402.1 823.9 404.8 825.9 407.4 827.9 410.1 829.9 412.7 831.9 415.4 833.9 418.2 835.9 420.9 837.9 423.6 839.9 426.4 841.9 429.2 843.9 432 845.9 434.9 847.9 437.8 849.9 440.6 851.9 443.5 853.9 446.5 855.9 449.4 857.9 452.4 859.9 455.4 861.9 458.4 863.9 461.4 865.9 464.5 867.9 467.6 869.9 470.7 871.9 473.8 873.9 476.9 875.9 480.1 877.9 483.3 879.9 486.5 881.9 489.7 883.9 493 885.9 496.3 887.9 499.6 889.9 502.9 891.9 506.3 893.9 509.7 895.9 513.1 897.9 516.5 899.9 520 901.9 523.5 903.9 527 905.9 530.5 907.9 534.1 909.9 537.7 911.9 541.3 913.9 544.9 915.9 548.6 917.9 552.2 919.9 556 921.9 559.7 923.9 563.5 925.9 567.3 927.9 571.1 929.9 574.9 931.9 578.8 933.9 582.7 935.9 586.6 937.9 590.6 939.9 594.6 941.9 598.6 943.9 602.7 945.9 606.7 947.9 610.8 949.9 615 951.9 619.1 953.9 623.3 955.9 627.5 957.9 631.8 959.9 636 961.9 640.4 963.9 644.7 965.9 649.1 967.9 653.5 969.9 657.9 971.9 662.3 973.9 666.8 975.9 671.4 977.9 675.9 979.9 680.5 981.9 685.1 983.9 689.8 985.9 694.4 987.9 699.2 989.9 703.9" stroke="#1a1a1a" stroke-width="3.6" fill="none" stroke-dasharray="14.2 9.53" stroke-dashoffset="1"/>
<path d="M207.9 53 209.9 53.4 211.9 53.7 213.9 54 215.9 54.4 217.9 54.7 219.9 55.1 221.9 55.4 223.9 55.8 225.9 56.1 227.9 56.5 229.9 56.9 231.9 57.2 233.9 57.6 235.9 58 237.9 58.4 239.9 58.8 241.9 59.2 243.9 59.5 245.9 59.9 247.9 60.4 249.9 60.8 251.9 61.2 253.9 61.6 255.9 62 257.9 62.4 259.9 62.8 261.9 63.3 263.9 63.7 265.9 64.1 267.9 64.6 269.9 65 271.9 65.4 273.9 65.9 275.9 66.3 277.9 66.8 279.9 67.2 281.9 67.7 283.9 68.2 285.9 68.6 287.9 69.1 289.9 69.6 291.9 70 293.9 70.5 295.9 71 297.9 71.5 299.9 72 301.9 72.5 303.9 72.9 305.9 73.4 307.9 73.9 309.9 74.4 311.9 74.9 313.9 75.4 315.9 75.9 317.9 76.5 319.9 77 321.9 77.5 323.9 78 325.9 78.5 327.9 79 329.9 79.6 331.9 80.1 333.9 80.6 335.9 81.1 337.9 81.7 339.9 82.2 341.9 82.8 343.9 83.3 345.9 83.8 347.9 84.4 349.9 84.9 351.9 85.5 353.9 86 355.9 86.6 357.9 87.2 359.9 87.7 361.9 88.3 363.9 88.8 365.9 89.4 367.9 90 369.9 90.6 371.9 91.1 373.9 91.7 375.9 92.3 377.9 92.9 379.9 93.5 381.9 94 383.9 94.6 385.9 95.2 387.9 95.8 389.9 96.4 391.9 97 393.9 97.6 395.9 98.2 397.9 98.8 399.9 99.4 401.9 100 403.9 100.6 405.9 101.3 407.9 101.9 409.9 102.5 411.9 103.1 413.9 103.7 415.9 104.4 417.9 105 419.9 105.6 421.9 106.3 423.9 106.9 425.9 107.5 427.9 108.2 429.9 108.8 431.9 109.5 433.9 110.1 435.9 110.8 437.9 111.4 439.9 112.1 441.9 112.7 443.9 113.4 445.9 114 447.9 114.7 449.9 115.4 451.9 116.1 453.9 116.7 455.9 117.4 457.9 118.1 459.9 118.8 461.9 119.4 463.9 120.1 465.9 120.8 467.9 121.5 469.9 122.2 471.9 122.9 473.9 123.6 475.9 124.3 477.9 125 479.9 125.7 481.9 126.4 483.9 127.1 485.9 127.9 487.9 128.6 489.9 129.3 491.9 130 493.9 130.7 495.9 131.5 497.9 132.2 499.9 133 501.9 133.7 503.9 134.4 505.9 135.2 507.9 135.9 509.9 136.7 511.9 137.4 513.9 138.2 515.9 139 517.9 139.7 519.9 140.5 521.9 141.3 523.9 142.1 525.9 142.8 527.9 143.6 529.9 144.4 531.9 145.2 533.9 146 535.9 146.8 537.9 147.6 539.9 148.4 541.9 149.2 543.9 150 545.9 150.8 547.9 151.7 549.9 152.5 551.9 153.3 553.9 154.2 555.9 155 557.9 155.8 559.9 156.7 561.9 157.5 563.9 158.4 565.9 159.2 567.9 160.1 569.9 161 571.9 161.8 573.9 162.7 575.9 163.6 577.9 164.5 579.9 165.4 581.9 166.3 583.9 167.2 585.9 168.1 587.9 169 589.9 169.9 591.9 170.8 593.9 171.7 595.9 172.7 597.9 173.6 599.9 174.6 601.9 175.5 603.9 176.4 605.9 177.4 607.9 178.4 609.9 179.3 611.9 180.3 613.9 181.3 615.9 182.3 617.9 183.2 619.9 184.2 621.9 185.2 623.9 186.3 625.9 187.3 627.9 188.3 629.9 189.3 631.9 190.3 633.9 191.4 635.9 192.4 637.9 193.5 639.9 194.5 641.9 195.6 643.9 196.6 645.9 197.7 647.9 198.8 649.9 199.9 651.9 201 653.9 202.1 655.9 203.2 657.9 204.3 659.9 205.4 661.9 206.6 663.9 207.7 665.9 208.8 667.9 210 669.9 211.1 671.9 212.3 673.9 213.5 675.9 214.7 677.9 215.9 679.9 217.1 681.9 218.3 683.9 219.5 685.9 220.7 687.9 221.9 689.9 223.2 691.9 224.4 693.9 225.7 695.9 226.9 697.9 228.2 699.9 229.5 701.9 230.7 703.9 232 705.9 233.3 707.9 234.7 709.9 236 711.9 237.3 713.9 238.7 715.9 240 717.9 241.4 719.9 242.7 721.9 244.1 723.9 245.5 725.9 246.9 727.9 248.3 729.9 249.7 731.9 251.1 733.9 252.6 735.9 254 737.9 255.5 739.9 256.9 741.9 258.4 743.9 259.9 745.9 261.4 747.9 262.9 749.9 264.4 751.9 265.9 753.9 267.5 755.9 269 757.9 270.6 759.9 272.2 761.9 273.8 763.9 275.4 765.9 277 767.9 278.6 769.9 280.2 771.9 281.9 773.9 283.5 775.9 285.2 777.9 286.8 779.9 288.5 781.9 290.2 783.9 292 785.9 293.7 787.9 295.4 789.9 297.2 791.9 298.9 793.9 300.7 795.9 302.5 797.9 304.3 799.9 306.1 801.9 308 803.9 309.8 805.9 311.7 807.9 313.5 809.9 315.4 811.9 317.3 813.9 319.2 815.9 321.1 817.9 323.1 819.9 325 821.9 327 823.9 329 825.9 331 827.9 333 829.9 335 831.9 337.1 833.9 339.1 835.9 341.2 837.9 343.3 839.9 345.4 841.9 347.5 843.9 349.6 845.9 351.8 847.9 354 849.9 356.1 851.9 358.3 853.9 360.6 855.9 362.8 857.9 365 859.9 367.3 861.9 369.6 863.9 371.9 865.9 374.2 867.9 376.5 869.9 378.9 871.9 381.2 873.9 383.6 875.9 386 877.9 388.4 879.9 390.9 881.9 393.3 883.9 395.8 885.9 398.3 887.9 400.8 889.9 403.3 891.9 405.9 893.9 408.4 895.9 411 897.9 413.6 899.9 416.2 901.9 418.9 903.9 421.5 905.9 424.2 907.9 426.9 909.9 429.6 911.9 432.4 913.9 435.1 915.9 437.9 917.9 440.7 919.9 443.5 921.9 446.3 923.9 449.2 925.9 452.1 927.9 455 929.9 457.9 931.9 460.9 933.9 463.8 935.9 466.8 937.9 469.8 939.9 472.8 941.9 475.9 943.9 479 945.9 482.1 947.9 485.2 949.9 488.3 951.9 491.5 953.9 494.7 955.9 497.9 957.9 501.1 959.9 504.4 961.9 507.7 963.9 511 965.9 514.3 967.9 517.6 969.9 521 971.9 524.4 973.9 527.8 975.9 531.3 977.9 534.8 979.9 538.3 981.9 541.8 983.9 545.3 985.9 548.9 987.9 552.5 989.9 556.1" stroke="#1a1a1a" stroke-width="3.6" fill="none" stroke-dasharray="14.2 9.53" stroke-dashoffset="1"/>
<path d="M207.9 50.5 209.9 50.9 211.9 51.3 213.9 51.8 215.9 52.2 217.9 52.7 219.9 53.1 221.9 53.5 223.9 54 225.9 54.4 227.9 54.9 229.9 55.3 231.9 55.8 233.9 56.3 235.9 56.7 237.9 57.2 239.9 57.6 241.9 58.1 243.9 58.5 245.9 59 247.9 59.5 249.9 59.9 251.9 60.4 253.9 60.9 255.9 61.3 257.9 61.8 259.9 62.3 261.9 62.8 263.9 63.2 265.9 63.7 267.9 64.2 269.9 64.7 271.9 65.1 273.9 65.6 275.9 66.1 277.9 66.6 279.9 67.1 281.9 67.5 283.9 68 285.9 68.5 287.9 69 289.9 69.5 291.9 70 293.9 70.5 295.9 71 297.9 71.4 299.9 71.9 301.9 72.4 303.9 72.9 305.9 73.4 307.9 73.9 309.9 74.4 311.9 74.9 313.9 75.4 315.9 75.9 317.9 76.4 319.9 76.9 321.9 77.4 323.9 77.9 325.9 78.4 327.9 79 329.9 79.5 331.9 80 333.9 80.5 335.9 81 337.9 81.5 339.9 82 341.9 82.5 343.9 83.1 345.9 83.6 347.9 84.1 349.9 84.6 351.9 85.1 353.9 85.7 355.9 86.2 357.9 86.7 359.9 87.2 361.9 87.8 363.9 88.3 365.9 88.8 367.9 89.3 369.9 89.9 371.9 90.4 373.9 90.9 375.9 91.5 377.9 92 379.9 92.6 381.9 93.1 383.9 93.6 385.9 94.2 387.9 94.7 389.9 95.3 391.9 95.8 393.9 96.3 395.9 96.9 397.9 97.4 399.9 98 401.9 98.5 403.9 99.1 405.9 99.6 407.9 100.2 409.9 100.8 411.9 101.3 413.9 101.9 415.9 102.4 417.9 103 419.9 103.6 421.9 104.1 423.9 104.7 425.9 105.3 427.9 105.8 429.9 106.4 431.9 107 433.9 107.6 435.9 108.1 437.9 108.7 439.9 109.3 441.9 109.9 443.9 110.4 445.9 111 447.9 111.6 449.9 112.2 451.9 112.8 453.9 113.4 455.9 114 457.9 114.6 459.9 115.2 461.9 115.8 463.9 116.4 465.9 117 467.9 117.6 469.9 118.2 471.9 118.8 473.9 119.4 475.9 120 477.9 120.6 479.9 121.2 481.9 121.9 483.9 122.5 485.9 123.1 487.9 123.7 489.9 124.4 491.9 125 493.9 125.6 495.9 126.3 497.9 126.9 499.9 127.5 501.9 128.2 503.9 128.8 505.9 129.5 507.9 130.1 509.9 130.8 511.9 131.4 513.9 132.1 515.9 132.7 517.9 133.4 519.9 134.1 521.9 134.7 523.9 135.4 525.9 136.1 527.9 136.7 529.9 137.4 531.9 138.1 533.9 138.8 535.9 139.5 537.9 140.2 539.9 140.8 541.9 141.5 543.9 142.2 545.9 142.9 547.9 143.6 549.9 144.4 551.9 145.1 553.9 145.8 555.9 146.5 557.9 147.2 559.9 147.9 561.9 148.7 563.9 149.4 565.9 150.1 567.9 150.9 569.9 151.6 571.9 152.4 573.9 153.1 575.9 153.9 577.9 154.6 579.9 155.4 581.9 156.1 583.9 156.9 585.9 157.7 587.9 158.5 589.9 159.2 591.9 160 593.9 160.8 595.9 161.6 597.9 162.4 599.9 163.2 601.9 164 603.9 164.8 605.9 165.6 607.9 166.4 609.9 167.3 611.9 168.1 613.9 168.9 615.9 169.8 617.9 170.6 619.9 171.4 621.9 172.3 623.9 173.1 625.9 174 627.9 174.9 629.9 175.7 631.9 176.6 633.9 177.5 635.9 178.4 637.9 179.3 639.9 180.2 641.9 181.1 643.9 182 645.9 182.9 647.9 183.8 649.9 184.7 651.9 185.6 653.9 186.6 655.9 187.5 657.9 188.4 659.9 189.4 661.9 190.3 663.9 191.3 665.9 192.3 667.9 193.2 669.9 194.2 671.9 195.2 673.9 196.2 675.9 197.2 677.9 198.2 679.9 199.2 681.9 200.2 683.9 201.2 685.9 202.3 687.9 203.3 689.9 204.3 691.9 205.4 693.9 206.4 695.9 207.5 697.9 208.6 699.9 209.6 701.9 210.7 703.9 211.8 705.9 212.9 707.9 214 709.9 215.1 711.9 216.2 713.9 217.3 715.9 218.5 717.9 219.6 719.9 220.8 721.9 221.9 723.9 223.1 725.9 224.2 727.9 225.4 729.9 226.6 731.9 227.8 733.9 229 735.9 230.2 737.9 231.4 739.9 232.6 741.9 233.9 743.9 235.1 745.9 236.3 747.9 237.6 749.9 238.9 751.9 240.1 753.9 241.4 755.9 242.7 757.9 244 759.9 245.3 761.9 246.6 763.9 248 765.9 249.3 767.9 250.6 769.9 252 771.9 253.4 773.9 254.7 775.9 256.1 777.9 257.5 779.9 258.9 781.9 260.3 783.9 261.7 785.9 263.1 787.9 264.6 789.9 266 791.9 267.5 793.9 269 795.9 270.4 797.9 271.9 799.9 273.4 801.9 274.9 803.9 276.4 805.9 278 807.9 279.5 809.9 281.1 811.9 282.6 813.9 284.2 815.9 285.8 817.9 287.4 819.9 289 821.9 290.6 823.9 292.2 825.9 293.9 827.9 295.5 829.9 297.2 831.9 298.8 833.9 300.5 835.9 302.2 837.9 303.9 839.9 305.7 841.9 307.4 843.9 309.1 845.9 310.9 847.9 312.7 849.9 314.4 851.9 316.2 853.9 318 855.9 319.8 857.9 321.7 859.9 323.5 861.9 325.4 863.9 327.2 865.9 329.1 867.9 331 869.9 332.9 871.9 334.8 873.9 336.8 875.9 338.7 877.9 340.7 879.9 342.7 881.9 344.6 883.9 346.6 885.9 348.7 887.9 350.7 889.9 352.7 891.9 354.8 893.9 356.9 895.9 358.9 897.9 361 899.9 363.2 901.9 365.3 903.9 367.4 905.9 369.6 907.9 371.8 909.9 373.9 911.9 376.1 913.9 378.4 915.9 380.6 917.9 382.8 919.9 385.1 921.9 387.4 923.9 389.7 925.9 392 927.9 394.3 929.9 396.7 931.9 399 933.9 401.4 935.9 403.8 937.9 406.2 939.9 408.6 941.9 411.1 943.9 413.5 945.9 416 947.9 418.5 949.9 421 951.9 423.5 953.9 426 955.9 428.6 957.9 431.2 959.9 433.8 961.9 436.4 963.9 439 965.9 441.6 967.9 444.3 969.9 447 971.9 449.7 973.9 452.4 975.9 455.1 977.9 457.9 979.9 460.7 981.9 463.4 983.9 466.3 985.9 469.1 987.9 471.9 989.9 474.8" stroke="#1a1a1a" stroke-width="3.6" fill="none" stroke-dasharray="14.2 9.53" stroke-dashoffset="1"/>
</g>
<rect x="181.8" y="18" width="800.5" height="585.6" fill="none" stroke="#000" stroke-width="4.6"/>
<path d="M228.7 603.6v-9.3M228.7 18v9.3M262.1 603.6v-9.3M262.1 18v9.3M287.9 603.6v-9.3M287.9 18v9.3M309.1 603.6v-9.3M309.1 18v9.3M326.9 603.6v-9.3M326.9 18v9.3M342.4 603.6v-9.3M342.4 18v9.3M356 603.6v-9.3M356 18v9.3M368.3 603.6v-18.5M368.3 18v18.5M448.6 603.6v-9.3M448.6 18v9.3M495.6 603.6v-9.3M495.6 18v9.3M528.9 603.6v-9.3M528.9 18v9.3M554.8 603.6v-9.3M554.8 18v9.3M575.9 603.6v-9.3M575.9 18v9.3M593.8 603.6v-9.3M593.8 18v9.3M609.2 603.6v-9.3M609.2 18v9.3M622.9 603.6v-9.3M622.9 18v9.3M635.1 603.6v-18.5M635.1 18v18.5M715.4 603.6v-9.3M715.4 18v9.3M762.4 603.6v-9.3M762.4 18v9.3M795.7 603.6v-9.3M795.7 18v9.3M821.6 603.6v-9.3M821.6 18v9.3M842.7 603.6v-9.3M842.7 18v9.3M860.6 603.6v-9.3M860.6 18v9.3M876.1 603.6v-9.3M876.1 18v9.3M889.7 603.6v-9.3M889.7 18v9.3M901.9 603.6v-18.5M901.9 18v18.5M181.8 577.3h9.3M982.2 577.3h-9.3M181.8 561.9h9.3M982.2 561.9h-9.3M181.8 551h9.3M982.2 551h-9.3M181.8 542.5h9.3M982.2 542.5h-9.3M181.8 535.6h9.3M982.2 535.6h-9.3M181.8 529.7h9.3M982.2 529.7h-9.3M181.8 524.7h9.3M982.2 524.7h-9.3M181.8 520.2h9.3M982.2 520.2h-9.3M181.8 516.2h18.5M982.2 516.2h-18.5M181.8 489.9h9.3M982.2 489.9h-9.3M181.8 474.5h9.3M982.2 474.5h-9.3M181.8 463.6h9.3M982.2 463.6h-9.3M181.8 455.1h9.3M982.2 455.1h-9.3M181.8 448.2h9.3M982.2 448.2h-9.3M181.8 442.3h9.3M982.2 442.3h-9.3M181.8 437.3h9.3M982.2 437.3h-9.3M181.8 432.8h9.3M982.2 432.8h-9.3M181.8 428.8h18.5M982.2 428.8h-18.5M181.8 402.5h9.3M982.2 402.5h-9.3M181.8 387.1h9.3M982.2 387.1h-9.3M181.8 376.2h9.3M982.2 376.2h-9.3M181.8 367.7h9.3M982.2 367.7h-9.3M181.8 360.8h9.3M982.2 360.8h-9.3M181.8 354.9h9.3M982.2 354.9h-9.3M181.8 349.9h9.3M982.2 349.9h-9.3M181.8 345.4h9.3M982.2 345.4h-9.3M181.8 341.4h18.5M982.2 341.4h-18.5M181.8 315.1h9.3M982.2 315.1h-9.3M181.8 299.7h9.3M982.2 299.7h-9.3M181.8 288.8h9.3M982.2 288.8h-9.3M181.8 280.3h9.3M982.2 280.3h-9.3M181.8 273.4h9.3M982.2 273.4h-9.3M181.8 267.5h9.3M982.2 267.5h-9.3M181.8 262.5h9.3M982.2 262.5h-9.3M181.8 258h9.3M982.2 258h-9.3M181.8 254h18.5M982.2 254h-18.5M181.8 227.7h9.3M982.2 227.7h-9.3M181.8 212.3h9.3M982.2 212.3h-9.3M181.8 201.4h9.3M982.2 201.4h-9.3M181.8 192.9h9.3M982.2 192.9h-9.3M181.8 186h9.3M982.2 186h-9.3M181.8 180.1h9.3M982.2 180.1h-9.3M181.8 175.1h9.3M982.2 175.1h-9.3M181.8 170.6h9.3M982.2 170.6h-9.3M181.8 166.6h18.5M982.2 166.6h-18.5M181.8 140.3h9.3M982.2 140.3h-9.3M181.8 124.9h9.3M982.2 124.9h-9.3M181.8 114h9.3M982.2 114h-9.3M181.8 105.5h9.3M982.2 105.5h-9.3M181.8 98.6h9.3M982.2 98.6h-9.3M181.8 92.7h9.3M982.2 92.7h-9.3M181.8 87.7h9.3M982.2 87.7h-9.3M181.8 83.2h9.3M982.2 83.2h-9.3M181.8 79.2h18.5M982.2 79.2h-18.5M181.8 52.9h9.3M982.2 52.9h-9.3M181.8 37.5h9.3M982.2 37.5h-9.3M181.8 26.6h9.3M982.2 26.6h-9.3" stroke="#000" stroke-width="2.4" fill="none"/>
<rect x="181.5" y="747.6" width="800.9" height="320.4" fill="none" stroke="#000" stroke-width="4.6"/>
<path d="M341.5 1068v-18.5M341.5 747.6v18.5M501.5 1068v-18.5M501.5 747.6v18.5M661.5 1068v-18.5M661.5 747.6v18.5M821.5 1068v-18.5M821.5 747.6v18.5M181.5 988h18.5M982.4 988h-18.5M181.5 908h18.5M982.4 908h-18.5M181.5 828h18.5M982.4 828h-18.5" stroke="#000" stroke-width="2.4" fill="none"/>
<path d="M711.5 124.3L609.8 173.8" stroke="#000" stroke-width="2.8" fill="none"/><path d="M599.0 179.0L609.6 166.6L608.9 174.2L615.3 178.3Z" fill="#000"/>
<path d="M814.4 180.4L754.8 222.1" stroke="#000" stroke-width="2.8" fill="none"/><path d="M745.0 229.0L753.6 215.1L754.0 222.7L761.0 225.7Z" fill="#000"/>
<path d="M399.6 210.9L461.9 176.2" stroke="#000" stroke-width="2.8" fill="none"/><path d="M472.4 170.4L462.5 183.4L462.8 175.7L456.1 172.0Z" fill="#000"/>
<path d="M552.8 362.4L629.8 235.9" stroke="#000" stroke-width="2.8" fill="none"/><path d="M636.0 225.6L633.8 241.8L630.3 235.0L622.7 235.0Z" fill="#000"/>
<g transform="translate(15.63 34.50) scale(0.7364 0.9130)"><text class="s" font-size="42">a</text></g>
<g transform="translate(37.45 34.67) scale(0.9500 1.0333)"><text class="s" font-size="48">)</text></g>
<g transform="translate(13.81 758.40) scale(0.9632 1.0226)"><text class="s" font-size="42">b</text></g>
<g transform="translate(37.28 759.64) scale(1.1167 1.0356)"><text class="s" font-size="48">)</text></g>
<g transform="translate(99.76 91.00) scale(0.9352 1.0000)"><text class="r" font-size="44">10<tspan font-size="31" dy="-17">1</tspan></text></g>
<g transform="translate(99.20 179.10) scale(0.9491 1.0026)"><text class="r" font-size="44">10<tspan font-size="31" dy="-17">0</tspan></text></g>
<g transform="translate(70.42 266.30) scale(1.0690 0.9763)"><text class="r" font-size="44">10<tspan font-size="31" dy="-17">−1</tspan></text></g>
<g transform="translate(70.46 353.60) scale(1.0597 0.9789)"><text class="r" font-size="44">10<tspan font-size="31" dy="-17">−2</tspan></text></g>
<g transform="translate(70.47 441.30) scale(1.0583 0.9658)"><text class="r" font-size="44">10<tspan font-size="31" dy="-17">−3</tspan></text></g>
<g transform="translate(70.48 528.60) scale(1.0562 1.0158)"><text class="r" font-size="44">10<tspan font-size="31" dy="-17">−4</tspan></text></g>
<g transform="translate(70.47 614.90) scale(1.0583 0.9684)"><text class="r" font-size="44">10<tspan font-size="31" dy="-17">−5</tspan></text></g>
<g transform="translate(336.03 654.50) scale(0.9667 1.0053)"><text class="r" font-size="44">10<tspan font-size="31" dy="-17">2</tspan></text></g>
<g transform="translate(603.13 654.50) scale(0.9685 1.0132)"><text class="r" font-size="44">10<tspan font-size="31" dy="-17">3</tspan></text></g>
<g transform="translate(870.50 654.50) scale(0.9509 1.0132)"><text class="r" font-size="44">10<tspan font-size="31" dy="-17">4</tspan></text></g>
<g transform="translate(433.25 705.10) scale(0.8873 1.0000)"><text class="s" font-size="44">Ion</text></g>
<g transform="translate(502.29 705.10) scale(0.8545 1.0000)"><text class="s" font-size="44">energy</text></g>
<g transform="translate(632.34 705.10) scale(0.9538 1.0000)"><text class="s" font-size="44">(eV)</text></g>
<g transform="translate(37.61 596.56) rotate(-90) scale(0.8793 0.9878)"><text class="s" font-size="44">Charge yield</text></g>
<g transform="translate(38.58 365.57) rotate(-90) scale(1.2909 1.1024)"><text class="s" font-size="44">(</text></g>
<g transform="translate(37.46 346.00) rotate(-90) scale(1.1762 1.0379)"><text class="r" font-size="44" font-style="italic">μ</text></g>
<g transform="translate(37.60 319.96) rotate(-90) scale(0.7821 1.0194)"><text class="s" font-size="44">C</text></g>
<g transform="translate(37.60 279.22) rotate(-90) scale(0.8740 0.9875)"><text class="s" font-size="44">keV</text></g>
<g transform="translate(21.00 209.21) rotate(-90) scale(1.2069 1.0526)"><text class="r" font-size="30">−1</text></g>
<g transform="translate(37.60 158.86) rotate(-90) scale(0.8571 0.8583)"><text class="s" font-size="44">sr</text></g>
<g transform="translate(21.00 125.21) rotate(-90) scale(1.2069 1.0526)"><text class="r" font-size="30">−1</text></g>
<g transform="translate(38.34 86.00) rotate(-90) scale(1.0000 1.0732)"><text class="s" font-size="44">)</text></g>
<g transform="translate(674.32 113.75) scale(0.9643 1.0000)"><text class="s" font-size="28">17</text></g>
<g transform="translate(710.75 113.75) scale(0.8125 1.0000)"><text class="s" font-size="28">J</text></g>
<g transform="translate(738.26 113.75) scale(0.9857 1.0000)"><text class="s" font-size="28">cm</text></g>
<g transform="translate(775.00 102.50) scale(1.0000 1.0179)"><text class="r" font-size="21">2</text></g>
<g transform="translate(779.09 171.30) scale(0.9103 1.0000)"><text class="s" font-size="28">25</text></g>
<g transform="translate(815.20 171.30) scale(0.9333 1.0000)"><text class="s" font-size="28">J</text></g>
<g transform="translate(843.04 171.30) scale(0.9600 1.0000)"><text class="s" font-size="28">cm</text></g>
<g transform="translate(879.82 159.60) scale(0.9778 1.0286)"><text class="r" font-size="21">2</text></g>
<g transform="translate(348.40 254.40) scale(0.8000 1.0000)"><text class="s" font-size="28">5</text></g>
<g transform="translate(369.20 254.40) scale(0.8000 1.0000)"><text class="s" font-size="28">J</text></g>
<g transform="translate(397.02 254.40) scale(0.9829 1.0000)"><text class="s" font-size="28">cm</text></g>
<g transform="translate(433.82 243.20) scale(0.9778 1.0286)"><text class="r" font-size="21">2</text></g>
<g transform="translate(499.02 403.20) scale(0.9846 1.0000)"><text class="s" font-size="28">9</text></g>
<g transform="translate(520.80 403.20) scale(0.8667 1.0000)"><text class="s" font-size="28">J</text></g>
<g transform="translate(547.84 403.20) scale(0.9600 1.0000)"><text class="s" font-size="28">cm</text></g>
<g transform="translate(583.73 391.20) scale(1.0667 0.9714)"><text class="r" font-size="21">2</text></g>
<g transform="translate(211.60 561.80) scale(0.9991 1.0500)"><text class="s" font-size="28">4.5-ps laser on solid target</text></g>
<g transform="translate(94.85 840.00) scale(0.9500 1.0690)"><text class="r" font-size="44">600</text></g>
<g transform="translate(94.84 920.30) scale(0.9563 1.0586)"><text class="r" font-size="44">400</text></g>
<g transform="translate(94.68 1000.80) scale(0.9587 1.0862)"><text class="r" font-size="44">200</text></g>
<g transform="translate(139.27 1080.50) scale(1.0158 1.0552)"><text class="r" font-size="44">0</text></g>
<g transform="translate(168.72 1118.80) scale(1.0421 1.0655)"><text class="r" font-size="44">0</text></g>
<g transform="translate(327.60 1118.80) scale(1.1000 1.0655)"><text class="r" font-size="44">5</text></g>
<g transform="translate(478.05 1118.80) scale(0.9872 1.0655)"><text class="r" font-size="44">10</text></g>
<g transform="translate(638.00 1118.80) scale(1.0000 1.0655)"><text class="r" font-size="44">15</text></g>
<g transform="translate(798.55 1118.80) scale(0.9756 1.0655)"><text class="r" font-size="44">20</text></g>
<g transform="translate(960.02 1118.80) scale(0.9875 1.0655)"><text class="r" font-size="44">25</text></g>
<g transform="translate(326.62 1186.50) scale(0.8438 1.0000)"><text class="s" font-size="44">Peak</text></g>
<g transform="translate(426.46 1186.50) scale(0.8478 1.0000)"><text class="s" font-size="44">laser</text></g>
<g transform="translate(523.14 1186.50) scale(0.8633 1.0000)"><text class="s" font-size="44">fluence</text></g>
<g transform="translate(660.93 1186.50) scale(1.0242 1.0000)"><text class="s" font-size="44">(J/cm<tspan class="r" font-size="30" dy="-16">2</tspan><tspan dy="16">)</tspan></text></g>
<g transform="translate(65.73 993.44) rotate(-90) scale(1.0600 1.1450)"><text class="r" font-size="44">⟨</text></g>
<g transform="translate(61.40 973.62) rotate(-90) scale(1.2815 1.0897)"><text class="r" font-size="44" font-style="italic">E</text></g>
<g transform="translate(65.73 943.47) rotate(-90) scale(1.1667 1.1450)"><text class="r" font-size="44">⟩</text></g>
<g transform="translate(62.55 908.56) rotate(-90) scale(0.9538 1.1171)"><text class="s" font-size="44">(eV)</text></g>
<path d="M725.9 120.8L736.1 91.0" stroke="#000" stroke-width="1.9" fill="none"/>
<path d="M829.7 177.5L839.9 148.1" stroke="#000" stroke-width="1.9" fill="none"/>
<path d="M384.5 261.1L394.7 230.9" stroke="#000" stroke-width="1.9" fill="none"/>
<path d="M535.3 409.9L544.7 379.7" stroke="#000" stroke-width="1.9" fill="none"/>
<g stroke="#1a1a1a" fill="none"><path stroke-width="4.8" d="M268.2 1047V1050.3M325.6 1024.6V1026.6M383.5 990.7V997.2M441.8 980V988.8M499.7 937.4V950.4M557.5 916.3V930M615.2 899.2V915.2M672.8 892V909.2M788.8 835.9V858.2M904.4 796.8V822.8"/><path stroke-width="2.6" d="M254.4 1047h27.6M254.4 1050.3h27.6M311.8 1024.6h27.6M311.8 1026.6h27.6M369.7 990.7h27.6M369.7 997.2h27.6M428 980h27.6M428 988.8h27.6M485.9 937.4h27.6M485.9 950.4h27.6M543.7 916.3h27.6M543.7 930h27.6M601.4 899.2h27.6M601.4 915.2h27.6M659 892h27.6M659 909.2h27.6M775 835.9h27.6M775 858.2h27.6M890.6 796.8h27.6M890.6 822.8h27.6"/><path stroke-width="11" stroke-linecap="round" d="M268.2 1048.8h0M325.6 1025.3h0M383.5 993.6h0M441.8 984h0M499.7 944h0M557.5 922.5h0M615.2 907.2h0M672.8 900.8h0M788.8 846.8h0M904.4 810h0"/></g>
<g stroke="#1783be" fill="none"><path stroke-width="4.8" d="M268.2 1035.5V1039.7M325.6 1016V1021.6M383.5 987.6V999.1M441.8 959.3V972M499.7 933.6V952.3M557.5 907.2V930M615.2 887.2V911.2M672.8 860.8V886.4M788.8 805.7V838.6M904.4 758V796.8"/><path stroke-width="2.6" d="M254.4 1035.5h27.6M254.4 1039.7h27.6M311.8 1016h27.6M311.8 1021.6h27.6M369.7 987.6h27.6M369.7 999.1h27.6M428 959.3h27.6M428 972h27.6M485.9 933.6h27.6M485.9 952.3h27.6M543.7 907.2h27.6M543.7 930h27.6M601.4 887.2h27.6M601.4 911.2h27.6M659 860.8h27.6M659 886.4h27.6M775 805.7h27.6M775 838.6h27.6M890.6 758h27.6M890.6 796.8h27.6"/></g>
<g stroke="#1783be" stroke-width="2.6" fill="#fff"><rect x="263.7" y="1033.1" width="9" height="9"/><rect x="321.1" y="1014.7" width="9" height="9"/><rect x="379" y="989.1" width="9" height="9"/><rect x="437.3" y="961.5" width="9" height="9"/><rect x="495.2" y="938.7" width="9" height="9"/><rect x="553" y="914.2" width="9" height="9"/><rect x="610.7" y="894.3" width="9" height="9"/><rect x="668.3" y="869.5" width="9" height="9"/><rect x="784.3" y="817.6" width="9" height="9"/><rect x="899.9" y="772.7" width="9" height="9"/></g>
</svg></body></html>
